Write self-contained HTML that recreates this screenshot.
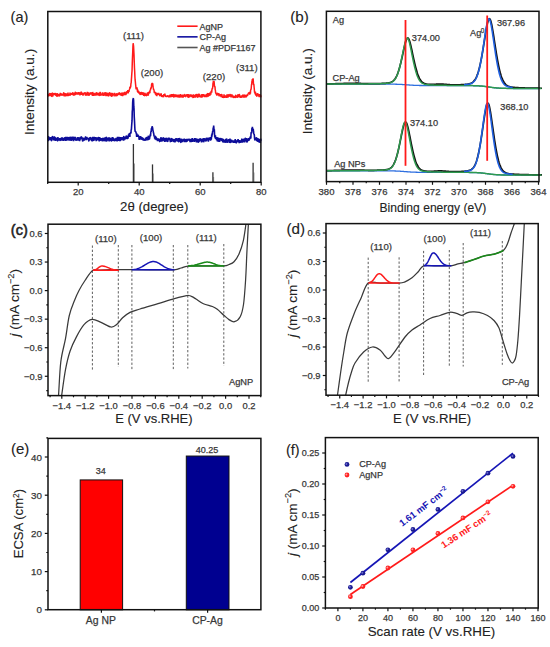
<!DOCTYPE html>
<html><head><meta charset="utf-8"><style>
html,body{margin:0;padding:0;background:#fff;}
svg{display:block;font-family:"Liberation Sans",sans-serif;}
</style></head><body>
<svg width="550" height="647" viewBox="0 0 550 647">
<rect width="550" height="647" fill="#fff"/>
<path d="M48,93.57 L48.22,96.27 L48.44,95.95 L48.66,94.01 L48.88,94.92 L49.1,94.75 L49.32,95.51 L49.54,96.03 L49.76,93.38 L49.98,93.13 L50.2,96.19 L50.42,94.66 L50.64,95.91 L50.86,93.01 L51.08,94.69 L51.3,95.74 L51.52,93.86 L51.74,96.58 L51.96,96.41 L52.18,93.09 L52.4,93.07 L52.62,95.02 L52.84,96.53 L53.06,94.4 L53.28,93.77 L53.5,94.55 L53.72,93.05 L53.94,93.78 L54.16,94.59 L54.38,94.81 L54.6,93.8 L54.82,93.79 L55.04,93.73 L55.26,94.64 L55.48,93.99 L55.7,92.97 L55.92,96.06 L56.14,94.99 L56.36,95.31 L56.58,93.56 L56.8,96.62 L57.02,96.11 L57.24,93.3 L57.46,94.09 L57.68,95.56 L57.9,95.52 L58.12,96.37 L58.34,94.4 L58.56,95.95 L58.78,95.33 L59,93.93 L59.22,95 L59.44,96.12 L59.66,95.97 L59.88,94.67 L60.1,94.98 L60.32,92.86 L60.54,93.65 L60.76,95.74 L60.98,94.28 L61.2,93.36 L61.42,94.77 L61.64,95.35 L61.86,95.24 L62.08,94.09 L62.3,94.32 L62.52,94.58 L62.74,95.6 L62.96,94.61 L63.18,94.11 L63.4,94.47 L63.62,92.71 L63.84,92.76 L64.06,95.26 L64.28,96.31 L64.5,94.82 L64.72,94.05 L64.94,93.19 L65.16,94.45 L65.38,96.26 L65.6,95.45 L65.82,94.56 L66.04,95.77 L66.26,93.37 L66.48,94.43 L66.7,96.09 L66.92,94.66 L67.14,94.2 L67.36,93.47 L67.58,94.52 L67.8,96.06 L68.02,92.44 L68.24,95.38 L68.46,95.51 L68.68,95.75 L68.9,95.19 L69.12,95.44 L69.34,94.33 L69.56,94.48 L69.78,93.96 L70,92.54 L70.22,95.63 L70.44,94.48 L70.66,93.06 L70.88,94.21 L71.1,94.13 L71.32,93.63 L71.54,93.58 L71.76,94.3 L71.98,94.62 L72.2,94.57 L72.42,93.97 L72.64,92.33 L72.86,93.08 L73.08,92.88 L73.3,94.41 L73.52,95.46 L73.74,95.21 L73.96,95.2 L74.18,95.26 L74.4,93.12 L74.62,95.34 L74.84,94.69 L75.06,92.44 L75.28,92.18 L75.5,92.16 L75.72,94.97 L75.94,93.04 L76.16,92.5 L76.38,94.45 L76.6,93.38 L76.82,92.33 L77.04,92.66 L77.26,94.05 L77.48,92.68 L77.7,93.07 L77.92,94.73 L78.14,93.75 L78.36,93.24 L78.58,93.81 L78.8,92.09 L79.02,93.46 L79.24,93.59 L79.46,92.7 L79.68,92.39 L79.9,95.39 L80.12,93.9 L80.34,92.76 L80.56,94.26 L80.78,95.06 L81,92.02 L81.22,92.01 L81.44,92.49 L81.66,94.66 L81.88,92.54 L82.1,94.6 L82.32,94.5 L82.54,93.99 L82.76,92.75 L82.98,95.62 L83.2,94.94 L83.42,93.87 L83.64,92.75 L83.86,94.36 L84.08,93.39 L84.3,94.08 L84.52,93.11 L84.74,94.28 L84.96,92.11 L85.18,93.02 L85.4,95.56 L85.62,95.21 L85.84,93.04 L86.06,95.14 L86.28,93.06 L86.5,95.45 L86.72,94.7 L86.94,93.46 L87.16,92.83 L87.38,91.91 L87.6,95.22 L87.82,92.02 L88.04,94.99 L88.26,95.53 L88.48,94.05 L88.7,92.53 L88.92,95.18 L89.14,95.58 L89.36,94.56 L89.58,93.82 L89.8,93.32 L90.02,93.21 L90.24,92.68 L90.46,94.46 L90.68,93.54 L90.9,92.64 L91.12,92.3 L91.34,94.44 L91.56,93.04 L91.78,93.81 L92,93.16 L92.22,95.24 L92.44,95.35 L92.66,92 L92.88,92.7 L93.1,93.19 L93.32,95.7 L93.54,94.92 L93.76,93.24 L93.98,92.77 L94.2,94.53 L94.42,95.16 L94.64,95.52 L94.86,93.29 L95.08,95.34 L95.3,94.61 L95.52,93.84 L95.74,95.75 L95.96,92.91 L96.18,94.78 L96.4,92.35 L96.62,92.68 L96.84,95.5 L97.06,92.86 L97.28,94.94 L97.5,94.34 L97.72,95.27 L97.94,93.48 L98.16,93.38 L98.38,93.2 L98.6,95.4 L98.82,94.41 L99.04,95.74 L99.26,95.5 L99.48,92.65 L99.7,94.24 L99.92,92.55 L100.14,92.31 L100.36,92.45 L100.58,95.47 L100.8,95.18 L101.02,95.34 L101.24,93.5 L101.46,94.55 L101.68,95.19 L101.9,93.67 L102.12,94.41 L102.34,93.1 L102.56,92.57 L102.78,93.28 L103,95.66 L103.22,94.43 L103.44,95.81 L103.66,94.04 L103.88,93.36 L104.1,95.31 L104.32,95.47 L104.54,92.38 L104.76,94.89 L104.98,92.7 L105.2,92.8 L105.42,95.74 L105.64,92.53 L105.86,93.3 L106.08,96.15 L106.3,94.01 L106.52,92.86 L106.74,93.06 L106.96,93.35 L107.18,95.27 L107.4,92.84 L107.62,95.92 L107.84,93.91 L108.06,96.16 L108.28,95.94 L108.5,93.61 L108.72,93.46 L108.94,94.32 L109.16,92.9 L109.38,95 L109.6,92.68 L109.82,92.58 L110.04,96.28 L110.26,93.67 L110.48,94.82 L110.7,94.27 L110.92,93.76 L111.14,92.82 L111.36,96.05 L111.58,96.27 L111.8,96.28 L112.02,93.02 L112.24,93.42 L112.46,94.96 L112.68,96.34 L112.9,94.68 L113.12,95.24 L113.34,95.14 L113.56,93.61 L113.78,94.69 L114,93.8 L114.22,93.57 L114.44,92.95 L114.66,93.71 L114.88,96.38 L115.1,94.35 L115.32,95.12 L115.54,95.09 L115.76,96.22 L115.98,94.13 L116.2,93.81 L116.42,93.88 L116.64,93.84 L116.86,95.85 L117.08,96.03 L117.3,93.78 L117.52,93.89 L117.74,94.69 L117.96,94.81 L118.18,94.87 L118.4,93.53 L118.62,92.67 L118.84,93.51 L119.06,92.84 L119.28,94.65 L119.5,92.82 L119.72,92.82 L119.94,94.93 L120.16,93.61 L120.38,95.5 L120.6,94.34 L120.82,95.73 L121.04,93.01 L121.26,94.31 L121.48,95.4 L121.7,92.65 L121.92,95.94 L122.14,92.96 L122.36,95.22 L122.58,95.97 L122.8,95.32 L123.02,93.37 L123.24,92.52 L123.46,94.02 L123.68,95.51 L123.9,93.08 L124.12,95.31 L124.34,92.39 L124.56,95.25 L124.78,91.84 L125,92.85 L125.22,95 L125.44,94.53 L125.66,94.83 L125.88,94.48 L126.1,94.01 L126.32,93.68 L126.54,91.61 L126.76,92.44 L126.98,91.25 L127.2,93.21 L127.42,92.86 L127.64,91.09 L127.86,90.17 L128.08,93.37 L128.3,92.54 L128.52,91.29 L128.74,90.98 L128.96,91.84 L129.18,89.99 L129.4,89.41 L129.62,88.79 L129.84,88.04 L130.06,86.65 L130.28,88.44 L130.5,86.88 L130.72,86.59 L130.94,83.48 L131.16,82.98 L131.38,79.92 L131.6,76.83 L131.82,73.37 L132.04,70.64 L132.26,63.39 L132.48,57.49 L132.7,52.73 L132.92,46.82 L133.14,43.23 L133.36,44.69 L133.58,46.35 L133.8,50.67 L134.02,55.03 L134.24,61.81 L134.46,67.8 L134.68,71.19 L134.9,76.57 L135.12,79.96 L135.34,81.58 L135.56,84.17 L135.78,86.09 L136,88.41 L136.22,89.22 L136.44,87.4 L136.66,89.34 L136.88,87.53 L137.1,88.05 L137.32,90.1 L137.54,91.85 L137.76,89.44 L137.98,92.04 L138.2,92.76 L138.42,90.84 L138.64,92.52 L138.86,93.33 L139.08,91.71 L139.3,93.14 L139.52,93.44 L139.74,93.05 L139.96,94.19 L140.18,94.47 L140.4,94.83 L140.62,93.46 L140.84,92.06 L141.06,92.43 L141.28,92.39 L141.5,93.81 L141.72,94.6 L141.94,91.98 L142.16,94.43 L142.38,94.62 L142.6,93.27 L142.82,93.95 L143.04,92.66 L143.26,94.84 L143.48,92.26 L143.7,95.86 L143.92,95.22 L144.14,94.56 L144.36,93.2 L144.58,95.67 L144.8,95.85 L145.02,92.74 L145.24,95.16 L145.46,95.41 L145.68,94.7 L145.9,94.85 L146.12,93.86 L146.34,95.66 L146.56,95.81 L146.78,93.54 L147,95.11 L147.22,93.66 L147.44,92.59 L147.66,93.15 L147.88,92.34 L148.1,95.24 L148.32,95.36 L148.54,92.08 L148.76,93.8 L148.98,92.94 L149.2,91.68 L149.42,92.14 L149.64,91.67 L149.86,93.2 L150.08,89.88 L150.3,89.96 L150.52,90.13 L150.74,87.63 L150.96,88.9 L151.18,87.71 L151.4,87.49 L151.62,84.1 L151.84,83.59 L152.06,84.04 L152.28,82.81 L152.5,84.16 L152.72,83.38 L152.94,85.81 L153.16,87.21 L153.38,88.39 L153.6,90.14 L153.82,89.58 L154.04,90.34 L154.26,92.55 L154.48,92.89 L154.7,92.67 L154.92,92.38 L155.14,92.32 L155.36,91.9 L155.58,94.76 L155.8,92.29 L156.02,94.82 L156.24,94.16 L156.46,95.86 L156.68,95.18 L156.9,96.08 L157.12,92.98 L157.34,94.43 L157.56,94.78 L157.78,93.85 L158,94.64 L158.22,94.15 L158.44,94.85 L158.66,92.9 L158.88,94.63 L159.1,94.7 L159.32,94.19 L159.54,94.59 L159.76,96.09 L159.98,95.75 L160.2,95.05 L160.42,95.68 L160.64,94.68 L160.86,94.05 L161.08,93.32 L161.3,94.38 L161.52,95.63 L161.74,96.73 L161.96,96.55 L162.18,95.36 L162.4,97.19 L162.62,95.21 L162.84,96.65 L163.06,95.05 L163.28,96.34 L163.5,97.28 L163.72,94.7 L163.94,94.2 L164.16,95.93 L164.38,95.6 L164.6,94.96 L164.82,93.62 L165.04,95.1 L165.26,95.25 L165.48,95.19 L165.7,96.93 L165.92,95.89 L166.14,96.47 L166.36,97.1 L166.58,96.54 L166.8,95.58 L167.02,96.55 L167.24,96.16 L167.46,96.2 L167.68,96.13 L167.9,95.29 L168.12,96.15 L168.34,96.17 L168.56,97.33 L168.78,96.75 L169,97 L169.22,96.71 L169.44,96.9 L169.66,96.1 L169.88,95.14 L170.1,94.82 L170.32,96.51 L170.54,97.15 L170.76,95.9 L170.98,94.42 L171.2,97.01 L171.42,95.69 L171.64,95.63 L171.86,94.03 L172.08,95.8 L172.3,96.7 L172.52,95.48 L172.74,95.23 L172.96,96.38 L173.18,93.96 L173.4,95.82 L173.62,97.49 L173.84,96.52 L174.06,95.43 L174.28,96.52 L174.5,96.21 L174.72,94.71 L174.94,94.71 L175.16,97.29 L175.38,94.95 L175.6,94.21 L175.82,97.09 L176.04,95.92 L176.26,95.34 L176.48,95.88 L176.7,96.74 L176.92,94.59 L177.14,96.43 L177.36,96.66 L177.58,97.05 L177.8,94.98 L178.02,96.28 L178.24,94.85 L178.46,96.1 L178.68,94.62 L178.9,96.97 L179.12,97.27 L179.34,95.23 L179.56,94.82 L179.78,97.64 L180,96.67 L180.22,97.19 L180.44,94.11 L180.66,97.41 L180.88,96.36 L181.1,95.2 L181.32,95.64 L181.54,96.89 L181.76,96.99 L181.98,94.73 L182.2,96.38 L182.42,94.64 L182.64,97.71 L182.86,95.7 L183.08,97.48 L183.3,96.78 L183.52,96.32 L183.74,95.01 L183.96,96.02 L184.18,94.55 L184.4,94.55 L184.62,96.75 L184.84,95.4 L185.06,96.88 L185.28,94.94 L185.5,96.76 L185.72,96.76 L185.94,95.2 L186.16,94.44 L186.38,95.55 L186.6,95.91 L186.82,94.42 L187.04,94.75 L187.26,94.25 L187.48,96.31 L187.7,97.42 L187.92,94.87 L188.14,94.18 L188.36,96.72 L188.58,97.14 L188.8,97.71 L189.02,96.38 L189.24,95.35 L189.46,97.23 L189.68,94.5 L189.9,96.68 L190.12,94.41 L190.34,95.57 L190.56,95.93 L190.78,95.49 L191,94.69 L191.22,94.93 L191.44,97.17 L191.66,95.81 L191.88,96.26 L192.1,94.86 L192.32,96.77 L192.54,95.31 L192.76,96.31 L192.98,97.51 L193.2,97.83 L193.42,94.23 L193.64,97.08 L193.86,97.31 L194.08,95.26 L194.3,95.5 L194.52,96.25 L194.74,97.54 L194.96,95.56 L195.18,97.39 L195.4,96.92 L195.62,94.62 L195.84,97.51 L196.06,94.09 L196.28,94.59 L196.5,96.56 L196.72,94.25 L196.94,95.47 L197.16,94.52 L197.38,95.78 L197.6,97.21 L197.82,97.46 L198.04,94.15 L198.26,94.24 L198.48,97.2 L198.7,94.16 L198.92,95.04 L199.14,94.44 L199.36,94.33 L199.58,94.09 L199.8,96.4 L200.02,96.8 L200.24,96.57 L200.46,97.17 L200.68,96.47 L200.9,95.42 L201.12,96.33 L201.34,97.61 L201.56,96.36 L201.78,94.83 L202,94.13 L202.22,97.44 L202.44,96.12 L202.66,95.19 L202.88,96.15 L203.1,95.97 L203.32,95.81 L203.54,94.04 L203.76,95.14 L203.98,95.35 L204.2,94.52 L204.42,97.08 L204.64,95.33 L204.86,96.21 L205.08,96.39 L205.3,96.47 L205.52,96.36 L205.74,96.45 L205.96,94.52 L206.18,97.24 L206.4,94.07 L206.62,96.95 L206.84,96.66 L207.06,96.61 L207.28,93.53 L207.5,93.62 L207.72,96.31 L207.94,94.95 L208.16,94.51 L208.38,96.77 L208.6,93.11 L208.82,94.9 L209.04,94.48 L209.26,93.19 L209.48,94.1 L209.7,95.18 L209.92,95.72 L210.14,92.33 L210.36,94.08 L210.58,92.25 L210.8,94.72 L211.02,91.72 L211.24,91.14 L211.46,91.95 L211.68,92.59 L211.9,90.11 L212.12,88.3 L212.34,89.5 L212.56,88.06 L212.78,86.71 L213,83.14 L213.22,82.36 L213.44,80.82 L213.66,81.64 L213.88,80.95 L214.1,81.68 L214.32,84.48 L214.54,86.55 L214.76,86.67 L214.98,86.37 L215.2,89.84 L215.42,90.26 L215.64,93.29 L215.86,93.02 L216.08,94.04 L216.3,93.96 L216.52,93.65 L216.74,95.27 L216.96,95.22 L217.18,93.33 L217.4,92.96 L217.62,93.9 L217.84,94.59 L218.06,93.08 L218.28,94.12 L218.5,95.08 L218.72,93.15 L218.94,96.16 L219.16,95.61 L219.38,94.39 L219.6,94.4 L219.82,94.66 L220.04,94.61 L220.26,96.27 L220.48,95.38 L220.7,95.52 L220.92,94.12 L221.14,97.07 L221.36,94.87 L221.58,94.91 L221.8,93.96 L222.02,97.45 L222.24,95.58 L222.46,97.25 L222.68,97.33 L222.9,97.52 L223.12,96.95 L223.34,97.39 L223.56,97.4 L223.78,96.96 L224,94.44 L224.22,95.93 L224.44,96.15 L224.66,97.75 L224.88,96.97 L225.1,96.67 L225.32,96.85 L225.54,95.4 L225.76,97.62 L225.98,96.49 L226.2,95.59 L226.42,95.83 L226.64,97.8 L226.86,96.11 L227.08,94.73 L227.3,94.67 L227.52,96.72 L227.74,96.26 L227.96,97.57 L228.18,94.83 L228.4,95.7 L228.62,96.91 L228.84,94.34 L229.06,94.53 L229.28,96.23 L229.5,95.17 L229.72,94.57 L229.94,95.17 L230.16,96.58 L230.38,96.18 L230.6,94.48 L230.82,94.46 L231.04,97.42 L231.26,96.64 L231.48,94.85 L231.7,97.47 L231.92,94.28 L232.14,95.6 L232.36,97.43 L232.58,96.9 L232.8,95.29 L233.02,97.6 L233.24,96.48 L233.46,97.5 L233.68,97.6 L233.9,95.83 L234.12,96.78 L234.34,96.28 L234.56,97.8 L234.78,97.24 L235,96.97 L235.22,97.3 L235.44,98 L235.66,95.18 L235.88,94.97 L236.1,97.04 L236.32,97.13 L236.54,96.15 L236.76,96.05 L236.98,95.73 L237.2,97.54 L237.42,97.21 L237.64,96.4 L237.86,94.33 L238.08,97.41 L238.3,95.91 L238.52,94.88 L238.74,95.29 L238.96,96.78 L239.18,94.16 L239.4,94.59 L239.62,95.28 L239.84,97.49 L240.06,96.95 L240.28,97.79 L240.5,96.16 L240.72,96.26 L240.94,96.17 L241.16,96.06 L241.38,96.11 L241.6,97.14 L241.82,97.64 L242.04,95.55 L242.26,96.38 L242.48,95.14 L242.7,95.1 L242.92,95.85 L243.14,96.13 L243.36,95.97 L243.58,97.57 L243.8,94.45 L244.02,96.22 L244.24,97.55 L244.46,96.54 L244.68,95.86 L244.9,95.07 L245.12,95.16 L245.34,97.15 L245.56,96.95 L245.78,96.04 L246,96.86 L246.22,96.9 L246.44,96.54 L246.66,94.72 L246.88,94.95 L247.1,96.14 L247.32,94.44 L247.54,95.79 L247.76,94.67 L247.98,94.02 L248.2,94.36 L248.42,92.95 L248.64,93.72 L248.86,93.8 L249.08,92.13 L249.3,92.53 L249.52,92.64 L249.74,94.63 L249.96,93.24 L250.18,91.61 L250.4,93.66 L250.62,89.98 L250.84,89.83 L251.06,89.3 L251.28,87.49 L251.5,84.7 L251.72,84.15 L251.94,81.32 L252.16,80.77 L252.38,78.99 L252.6,80.49 L252.82,79.85 L253.04,78.41 L253.26,79.97 L253.48,84.89 L253.7,83.94 L253.92,84.98 L254.14,87.48 L254.36,89.73 L254.58,92.65 L254.8,91.42 L255.02,93.31 L255.24,94.22 L255.46,91.76 L255.68,94.03 L255.9,95.71 L256.12,94.21 L256.34,94.32 L256.56,93.76 L256.78,96.17 L257,96.39 L257.22,93.21 L257.44,95.03 L257.66,94.62 L257.88,95.67 L258.1,93.66 L258.32,94.29 L258.54,94.42 L258.76,95.25 L258.98,96.51 L259.2,96.82 L259.42,96.6 L259.64,96.24 L259.86,94.05 L260.08,95.24 L260.3,96.35 L260.52,94.96 L260.74,95.81 L260.96,97.36" fill="none" stroke="#ff1a1a" stroke-width="1.5" stroke-linejoin="bevel"/>
<path d="M48,140.68 L48.22,140.64 L48.44,136.55 L48.66,136.68 L48.88,140.14 L49.1,139.68 L49.32,139.38 L49.54,137.72 L49.76,139.09 L49.98,139.1 L50.2,138.98 L50.42,137.04 L50.64,138.3 L50.86,138.13 L51.08,139.65 L51.3,140.9 L51.52,140.69 L51.74,138.83 L51.96,138.38 L52.18,137.57 L52.4,136.5 L52.62,136.47 L52.84,138.48 L53.06,137.81 L53.28,138.1 L53.5,140.45 L53.72,138.77 L53.94,138.93 L54.16,137.45 L54.38,136.47 L54.6,137.86 L54.82,137 L55.04,138.72 L55.26,140.97 L55.48,139.48 L55.7,137.22 L55.92,140.49 L56.14,140.05 L56.36,139.77 L56.58,140.56 L56.8,139.9 L57.02,140.03 L57.24,138.03 L57.46,140.91 L57.68,140.83 L57.9,137.15 L58.12,139.88 L58.34,139.7 L58.56,138.54 L58.78,138.86 L59,138.67 L59.22,140.68 L59.44,138.73 L59.66,140.25 L59.88,138.06 L60.1,140.5 L60.32,140.58 L60.54,138.56 L60.76,139.05 L60.98,140.68 L61.2,139.78 L61.42,138.69 L61.64,137.47 L61.86,137.95 L62.08,139.68 L62.3,137.23 L62.52,140.64 L62.74,137.7 L62.96,140.66 L63.18,137.9 L63.4,140.88 L63.62,139.73 L63.84,138.8 L64.06,138.87 L64.28,139.48 L64.5,139.19 L64.72,137.93 L64.94,137.45 L65.16,138.85 L65.38,140.8 L65.6,139.37 L65.82,136.85 L66.04,140.28 L66.26,139.85 L66.48,140.69 L66.7,137.4 L66.92,139.95 L67.14,136.79 L67.36,139.53 L67.58,137.78 L67.8,137.57 L68.02,140.56 L68.24,137.02 L68.46,138.94 L68.68,140.47 L68.9,137.67 L69.12,137.51 L69.34,140.6 L69.56,138.5 L69.78,139.85 L70,136.7 L70.22,138.23 L70.44,137.35 L70.66,139.66 L70.88,136.95 L71.1,140.96 L71.32,136.69 L71.54,139.93 L71.76,136.68 L71.98,137.76 L72.2,140.33 L72.42,137.31 L72.64,137.43 L72.86,139.77 L73.08,138.37 L73.3,136.8 L73.52,141.15 L73.74,137.3 L73.96,136.77 L74.18,138.19 L74.4,139.44 L74.62,140.03 L74.84,137.14 L75.06,138.17 L75.28,136.76 L75.5,138.69 L75.72,140.15 L75.94,140.03 L76.16,140.78 L76.38,140.11 L76.6,140.6 L76.82,139.88 L77.04,138.82 L77.26,137.68 L77.48,139.69 L77.7,138.1 L77.92,137.12 L78.14,138.71 L78.36,140.68 L78.58,137.25 L78.8,139.35 L79.02,138.47 L79.24,139.04 L79.46,137.33 L79.68,141.09 L79.9,137.87 L80.12,139.47 L80.34,138.61 L80.56,136.77 L80.78,139.25 L81,137.33 L81.22,136.95 L81.44,136.85 L81.66,137.44 L81.88,137.14 L82.1,139.62 L82.32,139.04 L82.54,141.23 L82.76,141.01 L82.98,141.29 L83.2,137.78 L83.42,138.76 L83.64,137.87 L83.86,139.44 L84.08,139.59 L84.3,140.41 L84.52,139.99 L84.74,137.91 L84.96,138.68 L85.18,139.16 L85.4,136.76 L85.62,136.9 L85.84,138.62 L86.06,137.26 L86.28,140.08 L86.5,137.86 L86.72,137.21 L86.94,137.59 L87.16,137.82 L87.38,137.76 L87.6,139.16 L87.82,138.9 L88.04,138.19 L88.26,139.72 L88.48,137.75 L88.7,140.94 L88.92,141.21 L89.14,140.13 L89.36,138.78 L89.58,139.14 L89.8,139.46 L90.02,137.02 L90.24,138.71 L90.46,139.21 L90.68,137.63 L90.9,137.23 L91.12,140.49 L91.34,138.49 L91.56,139.19 L91.78,141.04 L92,139.62 L92.22,138.14 L92.44,141.34 L92.66,138.53 L92.88,136.9 L93.1,139.97 L93.32,137.29 L93.54,138.23 L93.76,140.69 L93.98,139.92 L94.2,136.9 L94.42,138.91 L94.64,138.72 L94.86,139.07 L95.08,137.8 L95.3,139.55 L95.52,137.18 L95.74,138.15 L95.96,138.56 L96.18,141.15 L96.4,137.2 L96.62,140.33 L96.84,137.74 L97.06,139.49 L97.28,138.66 L97.5,138.99 L97.72,140.33 L97.94,138.68 L98.16,137.43 L98.38,137.43 L98.6,137.24 L98.82,140.78 L99.04,139.82 L99.26,141.29 L99.48,140.06 L99.7,136.99 L99.92,139.91 L100.14,140.46 L100.36,140.21 L100.58,139.18 L100.8,138.53 L101.02,138.99 L101.24,140.56 L101.46,138.13 L101.68,139.31 L101.9,139.09 L102.12,141.29 L102.34,140.6 L102.56,141.19 L102.78,140.74 L103,138.27 L103.22,137.97 L103.44,139.15 L103.66,138.1 L103.88,138.87 L104.1,140.03 L104.32,141.13 L104.54,139.6 L104.76,140.67 L104.98,137.35 L105.2,138.55 L105.42,141.5 L105.64,137.59 L105.86,138.83 L106.08,137.22 L106.3,137.31 L106.52,141.03 L106.74,141.46 L106.96,139.9 L107.18,137.51 L107.4,138.28 L107.62,137.98 L107.84,140 L108.06,140.05 L108.28,138.94 L108.5,139.33 L108.72,137.43 L108.94,139.41 L109.16,141.29 L109.38,140.39 L109.6,137.36 L109.82,139.29 L110.04,140.21 L110.26,138.1 L110.48,141.03 L110.7,139.03 L110.92,140.15 L111.14,138.77 L111.36,141.49 L111.58,140.51 L111.8,139.55 L112.02,137.57 L112.24,138.93 L112.46,137.04 L112.68,139.64 L112.9,140.96 L113.12,137.73 L113.34,139.24 L113.56,139.11 L113.78,138.75 L114,140.15 L114.22,141.19 L114.44,140.13 L114.66,139.05 L114.88,141.3 L115.1,138.39 L115.32,140.29 L115.54,139.89 L115.76,140.36 L115.98,140.77 L116.2,137.88 L116.42,139.7 L116.64,138.69 L116.86,139.9 L117.08,141.32 L117.3,139.73 L117.52,136.86 L117.74,138.94 L117.96,140.06 L118.18,140.85 L118.4,139.76 L118.62,140.52 L118.84,136.83 L119.06,141.08 L119.28,140.09 L119.5,139.51 L119.72,140.87 L119.94,140.76 L120.16,137.14 L120.38,140.42 L120.6,140.18 L120.82,137.55 L121.04,140.04 L121.26,139.29 L121.48,137.46 L121.7,140.25 L121.92,137.17 L122.14,139.32 L122.36,138.48 L122.58,137.62 L122.8,139.03 L123.02,138.54 L123.24,137.31 L123.46,140.78 L123.68,136.63 L123.9,136.27 L124.12,138.44 L124.34,140.02 L124.56,139.15 L124.78,139.54 L125,138.24 L125.22,139.05 L125.44,137.43 L125.66,137.04 L125.88,138.05 L126.1,135.79 L126.32,135.94 L126.54,138.95 L126.76,136.17 L126.98,138.72 L127.2,138.75 L127.42,136.87 L127.64,137.97 L127.86,138.33 L128.08,138.51 L128.3,134.97 L128.52,134.89 L128.74,135.67 L128.96,135.81 L129.18,134.75 L129.4,133.15 L129.62,135.33 L129.84,136.86 L130.06,133.69 L130.28,134.03 L130.5,132.78 L130.72,132.41 L130.94,133.53 L131.16,129.76 L131.38,129.62 L131.6,126.41 L131.82,123.29 L132.04,120.66 L132.26,111.62 L132.48,109.52 L132.7,102 L132.92,99.71 L133.14,98.56 L133.36,98.45 L133.58,100.09 L133.8,106.7 L134.02,108.68 L134.24,116.62 L134.46,120.36 L134.68,124.92 L134.9,129.32 L135.12,131.16 L135.34,131.83 L135.56,131.37 L135.78,131.77 L136,133.39 L136.22,132.84 L136.44,133.48 L136.66,136.99 L136.88,133.45 L137.1,137.01 L137.32,135.28 L137.54,135.47 L137.76,135.5 L137.98,134.6 L138.2,136.55 L138.42,135.39 L138.64,136.82 L138.86,136.28 L139.08,139.19 L139.3,139.43 L139.52,137.34 L139.74,138.36 L139.96,139.79 L140.18,137.1 L140.4,136.13 L140.62,136.84 L140.84,136.69 L141.06,139 L141.28,137.65 L141.5,137.62 L141.72,139.69 L141.94,137.15 L142.16,139.83 L142.38,139.06 L142.6,138.02 L142.82,139.99 L143.04,137.8 L143.26,140.29 L143.48,140.53 L143.7,138.59 L143.92,139.47 L144.14,140.66 L144.36,139.72 L144.58,139.76 L144.8,140.3 L145.02,140.6 L145.24,139.76 L145.46,140.78 L145.68,137.61 L145.9,139.11 L146.12,139.31 L146.34,137.89 L146.56,137.98 L146.78,136.93 L147,140.49 L147.22,137.67 L147.44,138.18 L147.66,140.04 L147.88,136.73 L148.1,140.22 L148.32,136.3 L148.54,135.76 L148.76,137.14 L148.98,137.05 L149.2,139.45 L149.42,139.08 L149.64,138.23 L149.86,136.35 L150.08,136.31 L150.3,134.22 L150.52,136.11 L150.74,133.05 L150.96,131.43 L151.18,131.86 L151.4,128.49 L151.62,128.29 L151.84,130.44 L152.06,126.34 L152.28,126.7 L152.5,127.53 L152.72,128.62 L152.94,130.5 L153.16,130.92 L153.38,132.53 L153.6,133.18 L153.82,134.08 L154.04,136.55 L154.26,135.89 L154.48,136.51 L154.7,138.66 L154.92,135.67 L155.14,136.25 L155.36,139.66 L155.58,137.85 L155.8,139.57 L156.02,136.71 L156.24,138.6 L156.46,140.17 L156.68,137.91 L156.9,139.97 L157.12,139.31 L157.34,138.38 L157.56,141.22 L157.78,138.49 L158,138.92 L158.22,139.64 L158.44,138.3 L158.66,140.73 L158.88,139.67 L159.1,139.67 L159.32,139.48 L159.54,141.56 L159.76,141.61 L159.98,140.96 L160.2,139.21 L160.42,139.04 L160.64,139.59 L160.86,137.41 L161.08,137.72 L161.3,141.82 L161.52,137.86 L161.74,141.6 L161.96,140.43 L162.18,141.53 L162.4,137.7 L162.62,138.77 L162.84,141.05 L163.06,137.43 L163.28,137.89 L163.5,139.03 L163.72,138.23 L163.94,138.12 L164.16,140.54 L164.38,137.89 L164.6,141.95 L164.82,140.48 L165.04,137.73 L165.26,141.65 L165.48,138.64 L165.7,139.75 L165.92,140.12 L166.14,138.19 L166.36,139.88 L166.58,137.85 L166.8,138.5 L167.02,141.82 L167.24,141.38 L167.46,140.01 L167.68,140.75 L167.9,141.65 L168.12,138.28 L168.34,139.9 L168.56,138.25 L168.78,138.19 L169,138.16 L169.22,138.64 L169.44,137.92 L169.66,138.67 L169.88,139.43 L170.1,140.56 L170.32,141.65 L170.54,141.86 L170.76,141.01 L170.98,140.05 L171.2,141.94 L171.42,138.48 L171.64,138.22 L171.86,141.5 L172.08,140.63 L172.3,138.72 L172.52,139.49 L172.74,139.13 L172.96,139.75 L173.18,139.74 L173.4,139.61 L173.62,141.45 L173.84,141.52 L174.06,140.38 L174.28,139.97 L174.5,139.11 L174.72,141.33 L174.94,142.35 L175.16,138.87 L175.38,141.05 L175.6,141.04 L175.82,140.85 L176.04,137.97 L176.26,140.37 L176.48,138.77 L176.7,138.74 L176.92,140.51 L177.14,140.82 L177.36,140.73 L177.58,141.27 L177.8,141.1 L178.02,140.05 L178.24,138.09 L178.46,141.43 L178.68,141.67 L178.9,141.73 L179.12,140.64 L179.34,138.07 L179.56,138.8 L179.78,138.4 L180,140.83 L180.22,140.41 L180.44,138.77 L180.66,142.31 L180.88,142.41 L181.1,142.06 L181.32,140.06 L181.54,139.27 L181.76,138.89 L181.98,141.72 L182.2,141.16 L182.42,139.21 L182.64,142.09 L182.86,140.56 L183.08,139.85 L183.3,139.86 L183.52,141.27 L183.74,140.05 L183.96,140.99 L184.18,138.53 L184.4,141.2 L184.62,139.22 L184.84,142.16 L185.06,138.96 L185.28,139.51 L185.5,140.46 L185.72,139.79 L185.94,140.4 L186.16,142.24 L186.38,138.92 L186.6,141.55 L186.82,141.19 L187.04,141.62 L187.26,140.06 L187.48,140.1 L187.7,139.6 L187.92,140.19 L188.14,139.18 L188.36,138.89 L188.58,140.21 L188.8,138.9 L189.02,140.18 L189.24,140.66 L189.46,139.45 L189.68,138.81 L189.9,140.82 L190.12,141.99 L190.34,139.06 L190.56,140.87 L190.78,141.07 L191,142.11 L191.22,141.18 L191.44,139.46 L191.66,139 L191.88,141.9 L192.1,139.43 L192.32,138.11 L192.54,142.06 L192.76,138.97 L192.98,139.5 L193.2,139.53 L193.42,139.24 L193.64,141.39 L193.86,139.64 L194.08,140.09 L194.3,139.99 L194.52,141.9 L194.74,138.15 L194.96,140.73 L195.18,138.67 L195.4,138.76 L195.62,140.86 L195.84,139.8 L196.06,138.37 L196.28,140.78 L196.5,142.28 L196.72,141.04 L196.94,140.35 L197.16,141.75 L197.38,142.28 L197.6,138.76 L197.82,139.44 L198.04,142.5 L198.26,142.32 L198.48,139 L198.7,141.3 L198.92,142.08 L199.14,140.78 L199.36,141.29 L199.58,140.46 L199.8,139.13 L200.02,139.03 L200.24,138.33 L200.46,141.1 L200.68,138.67 L200.9,140.89 L201.12,139.83 L201.34,140.03 L201.56,142.48 L201.78,139.82 L202,140.19 L202.22,139.75 L202.44,138.98 L202.66,139.02 L202.88,140.43 L203.1,141.73 L203.32,138.37 L203.54,142.3 L203.76,141.04 L203.98,138.17 L204.2,141.16 L204.42,139.74 L204.64,140.25 L204.86,138.33 L205.08,140.19 L205.3,140.22 L205.52,141.4 L205.74,140.45 L205.96,141 L206.18,141.11 L206.4,138.72 L206.62,137.79 L206.84,139.84 L207.06,138.2 L207.28,138.21 L207.5,139 L207.72,139.94 L207.94,140.25 L208.16,140.34 L208.38,141.64 L208.6,137.71 L208.82,139.73 L209.04,137.49 L209.26,140.08 L209.48,138.92 L209.7,137.45 L209.92,138.12 L210.14,139.61 L210.36,138.6 L210.58,140.59 L210.8,137.66 L211.02,137.29 L211.24,139.57 L211.46,137.55 L211.68,134.48 L211.9,136.58 L212.12,133.4 L212.34,134.63 L212.56,131.66 L212.78,130.98 L213,130.2 L213.22,127.66 L213.44,129.58 L213.66,125.66 L213.88,128.05 L214.1,131.66 L214.32,129.36 L214.54,133.94 L214.76,136.84 L214.98,136.7 L215.2,138.3 L215.42,135.39 L215.64,138.03 L215.86,138.71 L216.08,138.18 L216.3,138.32 L216.52,140.19 L216.74,137.45 L216.96,137.03 L217.18,139.67 L217.4,141.49 L217.62,140.94 L217.84,140.32 L218.06,138.66 L218.28,141.54 L218.5,137.64 L218.72,138.65 L218.94,141.2 L219.16,141.75 L219.38,139.53 L219.6,141.91 L219.82,138.28 L220.04,140.56 L220.26,138.16 L220.48,138.96 L220.7,138.79 L220.92,137.98 L221.14,139.85 L221.36,140.31 L221.58,139.33 L221.8,141.06 L222.02,138.32 L222.24,140.48 L222.46,140.55 L222.68,140 L222.9,142.37 L223.12,138.76 L223.34,140.16 L223.56,140.32 L223.78,139.94 L224,142.72 L224.22,140.88 L224.44,140.64 L224.66,140.3 L224.88,140.3 L225.1,142.67 L225.32,141.98 L225.54,141.3 L225.76,139.08 L225.98,141.07 L226.2,138.94 L226.42,139.97 L226.64,138.47 L226.86,141.62 L227.08,142.88 L227.3,141.32 L227.52,141.02 L227.74,139.55 L227.96,140.44 L228.18,140.55 L228.4,140.37 L228.62,139.67 L228.84,139.44 L229.06,141.89 L229.28,142.82 L229.5,142.23 L229.72,141.31 L229.94,138.59 L230.16,139.85 L230.38,142.33 L230.6,142.95 L230.82,140.99 L231.04,141.1 L231.26,141.64 L231.48,139.62 L231.7,141.77 L231.92,140.17 L232.14,142.39 L232.36,140.62 L232.58,141.55 L232.8,141.06 L233.02,140.97 L233.24,140.63 L233.46,142.89 L233.68,141.99 L233.9,140.45 L234.12,140.84 L234.34,142.65 L234.56,141.96 L234.78,141.53 L235,142.93 L235.22,139.06 L235.44,141.28 L235.66,141.4 L235.88,140.62 L236.1,142.96 L236.32,142.98 L236.54,140.32 L236.76,141.36 L236.98,142.05 L237.2,141.73 L237.42,140.19 L237.64,142.19 L237.86,140.12 L238.08,139.19 L238.3,141.57 L238.52,141.5 L238.74,140.39 L238.96,140.8 L239.18,143.05 L239.4,142.22 L239.62,140.37 L239.84,142.69 L240.06,141.11 L240.28,140.34 L240.5,141.45 L240.72,142.07 L240.94,142.59 L241.16,141.54 L241.38,141.52 L241.6,140.28 L241.82,138.61 L242.04,140.51 L242.26,138.93 L242.48,142.73 L242.7,140.05 L242.92,141.15 L243.14,141.73 L243.36,139.16 L243.58,142.16 L243.8,139.8 L244.02,138.65 L244.24,141.02 L244.46,140.09 L244.68,142.44 L244.9,140.23 L245.12,138.59 L245.34,138.21 L245.56,138.23 L245.78,140.33 L246,141.3 L246.22,138.21 L246.44,139.45 L246.66,140.08 L246.88,141.96 L247.1,142.24 L247.32,141.74 L247.54,140.58 L247.76,140.21 L247.98,138.52 L248.2,140.22 L248.42,138.08 L248.64,138.61 L248.86,140.92 L249.08,139.58 L249.3,140.16 L249.52,138.78 L249.74,137.69 L249.96,138.41 L250.18,138.32 L250.4,136.24 L250.62,138.29 L250.84,137.99 L251.06,133.19 L251.28,132.18 L251.5,133.42 L251.72,131.65 L251.94,128.16 L252.16,128.92 L252.38,126.82 L252.6,129.68 L252.82,128.87 L253.04,129.4 L253.26,128.98 L253.48,131.46 L253.7,133.15 L253.92,133.95 L254.14,134.26 L254.36,135.29 L254.58,138.35 L254.8,139.96 L255.02,140.02 L255.24,139.29 L255.46,140.34 L255.68,137.51 L255.9,138.02 L256.12,140.43 L256.34,137.32 L256.56,137.81 L256.78,141.1 L257,138.52 L257.22,138.55 L257.44,139.6 L257.66,141.7 L257.88,137.97 L258.1,142.02 L258.32,139.45 L258.54,140.73 L258.76,140.33 L258.98,138.77 L259.2,142.66 L259.42,139.1 L259.64,142.04 L259.86,142.42 L260.08,140.5 L260.3,142.86 L260.52,138.76 L260.74,139.18 L260.96,140.76" fill="none" stroke="#0d0d9a" stroke-width="1.6" stroke-linejoin="bevel"/>
<line x1="133.4" y1="144" x2="133.4" y2="182.3" stroke="#333" stroke-width="1.3"/>
<line x1="152.5" y1="164.4" x2="152.5" y2="182.3" stroke="#333" stroke-width="1.3"/>
<line x1="212.9" y1="172.2" x2="212.9" y2="182.3" stroke="#333" stroke-width="1.3"/>
<line x1="253.1" y1="162.8" x2="253.1" y2="182.3" stroke="#333" stroke-width="1.3"/>
<line x1="134.3" y1="163.5" x2="134.3" y2="182.3" stroke="#555" stroke-width="0.7"/>
<line x1="153.2" y1="173.5" x2="153.2" y2="182.3" stroke="#555" stroke-width="0.7"/>
<line x1="213.6" y1="177" x2="213.6" y2="182.3" stroke="#555" stroke-width="0.7"/>
<line x1="253.9" y1="172.5" x2="253.9" y2="182.3" stroke="#555" stroke-width="0.7"/>
<rect x="47.8" y="11.5" width="213.1" height="170.8" fill="none" stroke="#111" stroke-width="1.5"/>
<line x1="47.7" y1="182.3" x2="47.7" y2="183.9" stroke="#111" stroke-width="1.2"/>
<line x1="78.2" y1="182.3" x2="78.2" y2="185.5" stroke="#111" stroke-width="1.2"/>
<text x="78.2" y="194.8" font-size="9.5" text-anchor="middle" fill="#383838"  stroke="#383838" stroke-width="0.25">20</text>
<line x1="108.7" y1="182.3" x2="108.7" y2="183.9" stroke="#111" stroke-width="1.2"/>
<line x1="139.2" y1="182.3" x2="139.2" y2="185.5" stroke="#111" stroke-width="1.2"/>
<text x="139.2" y="194.8" font-size="9.5" text-anchor="middle" fill="#383838"  stroke="#383838" stroke-width="0.25">40</text>
<line x1="169.7" y1="182.3" x2="169.7" y2="183.9" stroke="#111" stroke-width="1.2"/>
<line x1="200.2" y1="182.3" x2="200.2" y2="185.5" stroke="#111" stroke-width="1.2"/>
<text x="200.2" y="194.8" font-size="9.5" text-anchor="middle" fill="#383838"  stroke="#383838" stroke-width="0.25">60</text>
<line x1="230.7" y1="182.3" x2="230.7" y2="183.9" stroke="#111" stroke-width="1.2"/>
<line x1="261.2" y1="182.3" x2="261.2" y2="185.5" stroke="#111" stroke-width="1.2"/>
<text x="261.2" y="194.8" font-size="9.5" text-anchor="middle" fill="#383838"  stroke="#383838" stroke-width="0.25">80</text>
<text x="154.2" y="211.2" font-size="13.2" text-anchor="middle" fill="#222"  stroke="#222" stroke-width="0.12">2θ (degree)</text>
<text x="-91.9" y="33.7" font-size="13.6" text-anchor="middle" fill="#222" transform="rotate(-90)" stroke="#222" stroke-width="0.12">Intensity (a.u.)</text>
<text x="10.6" y="21.8" font-size="14.5" text-anchor="start" fill="#222"  stroke="#222" stroke-width="0.12">(a)</text>
<line x1="177.3" y1="26.2" x2="197.6" y2="26.2" stroke="#ff1a1a" stroke-width="1.6"/>
<text x="199.6" y="29.5" font-size="9.0" text-anchor="start" fill="#383838"  stroke="#383838" stroke-width="0.25">AgNP</text>
<line x1="177.3" y1="36.85" x2="197.6" y2="36.85" stroke="#1010a0" stroke-width="1.6"/>
<text x="199.6" y="40.15" font-size="9.0" text-anchor="start" fill="#383838"  stroke="#383838" stroke-width="0.25">CP-Ag</text>
<line x1="177.3" y1="47.5" x2="197.6" y2="47.5" stroke="#555" stroke-width="1.6"/>
<text x="199.6" y="50.8" font-size="9.0" text-anchor="start" fill="#383838"  stroke="#383838" stroke-width="0.25">Ag #PDF1167</text>
<text x="133.5" y="38.6" font-size="9.6" text-anchor="middle" fill="#383838"  stroke="#383838" stroke-width="0.25">(111)</text>
<text x="152" y="75.6" font-size="9.6" text-anchor="middle" fill="#383838"  stroke="#383838" stroke-width="0.25">(200)</text>
<text x="214" y="79.6" font-size="9.6" text-anchor="middle" fill="#383838"  stroke="#383838" stroke-width="0.25">(220)</text>
<text x="246.8" y="71.4" font-size="9.6" text-anchor="middle" fill="#383838"  stroke="#383838" stroke-width="0.25">(311)</text>
<path d="M326.4,84.1 L326.83,84.1 L327.26,84.1 L327.69,84.1 L328.12,84.1 L328.55,84.1 L328.98,84.1 L329.41,84.1 L329.84,84.1 L330.27,84.1 L330.7,84.1 L331.13,84.1 L331.56,84.1 L331.99,84.1 L332.42,84.1 L332.85,84.1 L333.28,84.1 L333.71,84.1 L334.14,84.1 L334.57,84.1 L335,84.1 L335.43,84.1 L335.86,84.1 L336.29,84.1 L336.72,84.1 L337.15,84.1 L337.59,84.1 L338.02,84.1 L338.45,84.1 L338.88,84.1 L339.31,84.1 L339.74,84.1 L340.17,84.1 L340.6,84.1 L341.03,84.1 L341.46,84.1 L341.89,84.1 L342.32,84.1 L342.75,84.1 L343.18,84.1 L343.61,84.1 L344.04,84.1 L344.47,84.1 L344.9,84.1 L345.33,84.1 L345.76,84.1 L346.19,84.1 L346.62,84.1 L347.05,84.1 L347.48,84.1 L347.91,84.1 L348.34,84.1 L348.77,84.1 L349.2,84.1 L349.63,84.1 L350.06,84.1 L350.49,84.1 L350.92,84.1 L351.35,84.1 L351.78,84.1 L352.21,84.1 L352.64,84.1 L353.07,84.1 L353.5,84.1 L353.93,84.1 L354.36,84.1 L354.79,84.1 L355.22,84.1 L355.65,84.1 L356.08,84.1 L356.51,84.1 L356.94,84.1 L357.37,84.1 L357.8,84.1 L358.23,84.1 L358.66,84.1 L359.1,84.1 L359.53,84.1 L359.96,84.1 L360.39,84.1 L360.82,84.1 L361.25,84.1 L361.68,84.1 L362.11,84.1 L362.54,84.1 L362.97,84.1 L363.4,84.1 L363.83,84.1 L364.26,84.1 L364.69,84.1 L365.12,84.1 L365.55,84.1 L365.98,84.1 L366.41,84.1 L366.84,84.1 L367.27,84.1 L367.7,84.1 L368.13,84.1 L368.56,84.1 L368.99,84.1 L369.42,84.1 L369.85,84.1 L370.28,84.1 L370.71,84.1 L371.14,84.1 L371.57,84.1 L372,84.1 L372.43,84.1 L372.86,84.1 L373.29,84.1 L373.72,84.1 L374.15,84.1 L374.58,84.1 L375.01,84.1 L375.44,84.1 L375.87,84.1 L376.3,84.1 L376.73,84.1 L377.16,84.1 L377.59,84.1 L378.02,84.1 L378.45,84.1 L378.88,84.11 L379.31,84.11 L379.74,84.11 L380.17,84.11 L380.61,84.11 L381.04,84.11 L381.47,84.11 L381.9,84.11 L382.33,84.11 L382.76,84.11 L383.19,84.11 L383.62,84.11 L384.05,84.11 L384.48,84.12 L384.91,84.12 L385.34,84.12 L385.77,84.12 L386.2,84.12 L386.63,84.12 L387.06,84.13 L387.49,84.13 L387.92,84.13 L388.35,84.13 L388.78,84.14 L389.21,84.14 L389.64,84.14 L390.07,84.15 L390.5,84.15 L390.93,84.15 L391.36,84.16 L391.79,84.16 L392.22,84.17 L392.65,84.18 L393.08,84.18 L393.51,84.19 L393.94,84.2 L394.37,84.21 L394.8,84.21 L395.23,84.22 L395.66,84.23 L396.09,84.24 L396.52,84.26 L396.95,84.27 L397.38,84.28 L397.81,84.3 L398.24,84.31 L398.67,84.33 L399.1,84.34 L399.53,84.36 L399.96,84.38 L400.39,84.4 L400.82,84.42 L401.25,84.44 L401.69,84.47 L402.12,84.49 L402.55,84.52 L402.98,84.54 L403.41,84.57 L403.84,84.6 L404.27,84.63 L404.7,84.66 L405.13,84.69 L405.56,84.72 L405.99,84.75 L406.42,84.78 L406.85,84.82 L407.28,84.85 L407.71,84.88 L408.14,84.91 L408.57,84.94 L409,84.98 L409.43,85.01 L409.86,85.04 L410.29,85.07 L410.72,85.1 L411.15,85.13 L411.58,85.15 L412.01,85.18 L412.44,85.2 L412.87,85.23 L413.3,85.25 L413.73,85.28 L414.16,85.3 L414.59,85.32 L415.02,85.34 L415.45,85.35 L415.88,85.37 L416.31,85.39 L416.74,85.4 L417.17,85.42 L417.6,85.43 L418.03,85.44 L418.46,85.45 L418.89,85.47 L419.32,85.48 L419.75,85.49 L420.18,85.49 L420.61,85.5 L421.04,85.51 L421.47,85.52 L421.9,85.52 L422.33,85.53 L422.76,85.53 L423.19,85.54 L423.63,85.54 L424.06,85.55 L424.49,85.55 L424.92,85.56 L425.35,85.56 L425.78,85.56 L426.21,85.57 L426.64,85.57 L427.07,85.57 L427.5,85.57 L427.93,85.58 L428.36,85.58 L428.79,85.58 L429.22,85.58 L429.65,85.58 L430.08,85.58 L430.51,85.59 L430.94,85.59 L431.37,85.59 L431.8,85.59 L432.23,85.59 L432.66,85.59 L433.09,85.59 L433.52,85.59 L433.95,85.59 L434.38,85.59 L434.81,85.59 L435.24,85.59 L435.67,85.59 L436.1,85.6 L436.53,85.6 L436.96,85.6 L437.39,85.6 L437.82,85.6 L438.25,85.6 L438.68,85.6 L439.11,85.6 L439.54,85.6 L439.97,85.6 L440.4,85.6 L440.83,85.6 L441.26,85.6 L441.69,85.6 L442.12,85.6 L442.55,85.6 L442.98,85.6 L443.41,85.6 L443.84,85.6 L444.27,85.6 L444.7,85.6 L445.14,85.6 L445.57,85.6 L446,85.6 L446.43,85.6 L446.86,85.6 L447.29,85.6 L447.72,85.6 L448.15,85.6 L448.58,85.6 L449.01,85.6 L449.44,85.6 L449.87,85.6 L450.3,85.6 L450.73,85.6 L451.16,85.6 L451.59,85.6 L452.02,85.6 L452.45,85.6 L452.88,85.6 L453.31,85.6 L453.74,85.6 L454.17,85.6 L454.6,85.6 L455.03,85.6 L455.46,85.6 L455.89,85.6 L456.32,85.6 L456.75,85.6 L457.18,85.6 L457.61,85.61 L458.04,85.61 L458.47,85.61 L458.9,85.61 L459.33,85.61 L459.76,85.61 L460.19,85.61 L460.62,85.61 L461.05,85.61 L461.48,85.61 L461.91,85.61 L462.34,85.61 L462.77,85.62 L463.2,85.62 L463.63,85.62 L464.06,85.62 L464.49,85.62 L464.92,85.62 L465.35,85.63 L465.78,85.63 L466.22,85.63 L466.65,85.63 L467.08,85.64 L467.51,85.64 L467.94,85.64 L468.37,85.65 L468.8,85.65 L469.23,85.65 L469.66,85.66 L470.09,85.66 L470.52,85.67 L470.95,85.68 L471.38,85.68 L471.81,85.69 L472.24,85.7 L472.67,85.71 L473.1,85.72 L473.53,85.73 L473.96,85.74 L474.39,85.75 L474.82,85.76 L475.25,85.77 L475.68,85.79 L476.11,85.8 L476.54,85.82 L476.97,85.84 L477.4,85.86 L477.83,85.88 L478.26,85.9 L478.69,85.93 L479.12,85.95 L479.55,85.98 L479.98,86.01 L480.41,86.04 L480.84,86.07 L481.27,86.11 L481.7,86.15 L482.13,86.19 L482.56,86.23 L482.99,86.27 L483.42,86.32 L483.85,86.36 L484.28,86.41 L484.71,86.46 L485.14,86.52 L485.57,86.57 L486,86.63 L486.43,86.69 L486.86,86.74 L487.29,86.81 L487.73,86.87 L488.16,86.93 L488.59,86.99 L489.02,87.05 L489.45,87.11 L489.88,87.18 L490.31,87.24 L490.74,87.3 L491.17,87.36 L491.6,87.42 L492.03,87.48 L492.46,87.53 L492.89,87.59 L493.32,87.64 L493.75,87.69 L494.18,87.74 L494.61,87.79 L495.04,87.83 L495.47,87.88 L495.9,87.92 L496.33,87.96 L496.76,87.99 L497.19,88.03 L497.62,88.06 L498.05,88.09 L498.48,88.12 L498.91,88.15 L499.34,88.17 L499.77,88.2 L500.2,88.22 L500.63,88.24 L501.06,88.26 L501.49,88.28 L501.92,88.3 L502.35,88.31 L502.78,88.33 L503.21,88.34 L503.64,88.35 L504.07,88.36 L504.5,88.38 L504.93,88.38 L505.36,88.39 L505.79,88.4 L506.22,88.41 L506.65,88.42 L507.08,88.42 L507.51,88.43 L507.94,88.44 L508.37,88.44 L508.8,88.45 L509.24,88.45 L509.67,88.45 L510.1,88.46 L510.53,88.46 L510.96,88.46 L511.39,88.47 L511.82,88.47 L512.25,88.47 L512.68,88.47 L513.11,88.48 L513.54,88.48 L513.97,88.48 L514.4,88.48 L514.83,88.48 L515.26,88.48 L515.69,88.49 L516.12,88.49 L516.55,88.49 L516.98,88.49 L517.41,88.49 L517.84,88.49 L518.27,88.49 L518.7,88.49 L519.13,88.49 L519.56,88.49 L519.99,88.49 L520.42,88.49 L520.85,88.5 L521.28,88.5 L521.71,88.5 L522.14,88.5 L522.57,88.5 L523,88.5 L523.43,88.5 L523.86,88.5 L524.29,88.5 L524.72,88.5 L525.15,88.5 L525.58,88.5 L526.01,88.5 L526.44,88.5 L526.87,88.5 L527.3,88.5 L527.73,88.5 L528.16,88.5 L528.59,88.5 L529.02,88.5 L529.45,88.5 L529.88,88.5 L530.31,88.5 L530.75,88.5 L531.18,88.5 L531.61,88.5 L532.04,88.5 L532.47,88.5 L532.9,88.5 L533.33,88.5 L533.76,88.5 L534.19,88.5 L534.62,88.5 L535.05,88.5 L535.48,88.5 L535.91,88.5 L536.34,88.5 L536.77,88.5 L537.2,88.5 L537.63,88.5 L538.06,88.5 L538.49,88.5 L538.92,88.5" fill="none" stroke="#2e6fe0" stroke-width="1.3"/>
<path d="M326.9,83.93 L327.33,83.92 L327.76,83.91 L328.19,83.91 L328.62,83.9 L329.05,83.89 L329.48,83.88 L329.91,83.87 L330.34,83.86 L330.77,83.85 L331.2,83.84 L331.63,83.83 L332.06,83.82 L332.49,83.81 L332.92,83.8 L333.35,83.79 L333.78,83.77 L334.21,83.76 L334.64,83.75 L335.07,83.74 L335.5,83.72 L335.93,83.71 L336.36,83.7 L336.79,83.68 L337.22,83.67 L337.65,83.65 L338.09,83.64 L338.52,83.63 L338.95,83.61 L339.38,83.6 L339.81,83.58 L340.24,83.57 L340.67,83.56 L341.1,83.54 L341.53,83.53 L341.96,83.51 L342.39,83.5 L342.82,83.49 L343.25,83.48 L343.68,83.46 L344.11,83.45 L344.54,83.44 L344.97,83.43 L345.4,83.42 L345.83,83.41 L346.26,83.4 L346.69,83.39 L347.12,83.39 L347.55,83.38 L347.98,83.37 L348.41,83.37 L348.84,83.36 L349.27,83.36 L349.7,83.35 L350.13,83.35 L350.56,83.35 L350.99,83.35 L351.42,83.34 L351.85,83.34 L352.28,83.35 L352.71,83.35 L353.14,83.35 L353.57,83.35 L354,83.35 L354.43,83.36 L354.86,83.36 L355.29,83.37 L355.72,83.37 L356.15,83.38 L356.58,83.39 L357.01,83.39 L357.44,83.4 L357.87,83.41 L358.3,83.42 L358.73,83.43 L359.16,83.44 L359.6,83.44 L360.03,83.45 L360.46,83.46 L360.89,83.47 L361.32,83.48 L361.75,83.49 L362.18,83.5 L362.61,83.51 L363.04,83.52 L363.47,83.53 L363.9,83.54 L364.33,83.54 L364.76,83.55 L365.19,83.56 L365.62,83.57 L366.05,83.58 L366.48,83.58 L366.91,83.59 L367.34,83.6 L367.77,83.6 L368.2,83.61 L368.63,83.61 L369.06,83.62 L369.49,83.62 L369.92,83.62 L370.35,83.63 L370.78,83.63 L371.21,83.63 L371.64,83.63 L372.07,83.63 L372.5,83.63 L372.93,83.63 L373.36,83.63 L373.79,83.63 L374.22,83.63 L374.65,83.62 L375.08,83.62 L375.51,83.62 L375.94,83.61 L376.37,83.61 L376.8,83.6 L377.23,83.59 L377.66,83.58 L378.09,83.58 L378.52,83.57 L378.95,83.56 L379.38,83.55 L379.81,83.54 L380.24,83.52 L380.67,83.51 L381.11,83.5 L381.54,83.48 L381.97,83.46 L382.4,83.45 L382.83,83.43 L383.26,83.41 L383.69,83.39 L384.12,83.36 L384.55,83.34 L384.98,83.31 L385.41,83.28 L385.84,83.24 L386.27,83.2 L386.7,83.16 L387.13,83.11 L387.56,83.06 L387.99,83 L388.42,82.93 L388.85,82.85 L389.28,82.75 L389.71,82.65 L390.14,82.52 L390.57,82.38 L391,82.21 L391.43,82.02 L391.86,81.8 L392.29,81.55 L392.72,81.26 L393.15,80.92 L393.58,80.54 L394.01,80.1 L394.44,79.61 L394.87,79.06 L395.3,78.43 L395.73,77.73 L396.16,76.95 L396.59,76.09 L397.02,75.14 L397.45,74.1 L397.88,72.97 L398.31,71.74 L398.74,70.42 L399.17,69 L399.6,67.5 L400.03,65.9 L400.46,64.22 L400.89,62.46 L401.32,60.64 L401.75,58.76 L402.19,56.83 L402.62,54.86 L403.05,52.88 L403.48,50.9 L403.91,48.95 L404.34,47.04 L404.77,45.22 L405.2,43.5 L405.63,41.94 L406.06,40.58 L406.49,39.46 L406.92,38.63 L407.35,38.12 L407.78,37.95 L408.21,38.14 L408.64,38.68 L409.07,39.54 L409.5,40.7 L409.93,42.1 L410.36,43.7 L410.79,45.45 L411.22,47.33 L411.65,49.28 L412.08,51.28 L412.51,53.31 L412.94,55.34 L413.37,57.35 L413.8,59.33 L414.23,61.26 L414.66,63.14 L415.09,64.94 L415.52,66.66 L415.95,68.3 L416.38,69.85 L416.81,71.31 L417.24,72.67 L417.67,73.93 L418.1,75.1 L418.53,76.17 L418.96,77.15 L419.39,78.04 L419.82,78.84 L420.25,79.57 L420.68,80.22 L421.11,80.79 L421.54,81.3 L421.97,81.75 L422.4,82.15 L422.83,82.5 L423.26,82.8 L423.69,83.06 L424.13,83.29 L424.56,83.48 L424.99,83.65 L425.42,83.8 L425.85,83.92 L426.28,84.02 L426.71,84.11 L427.14,84.19 L427.57,84.25 L428,84.3 L428.43,84.34 L428.86,84.37 L429.29,84.39 L429.72,84.41 L430.15,84.42 L430.58,84.43 L431.01,84.43 L431.44,84.43 L431.87,84.42 L432.3,84.41 L432.73,84.39 L433.16,84.37 L433.59,84.35 L434.02,84.33 L434.45,84.31 L434.88,84.28 L435.31,84.25 L435.74,84.23 L436.17,84.2 L436.6,84.18 L437.03,84.16 L437.46,84.13 L437.89,84.12 L438.32,84.1 L438.75,84.09 L439.18,84.08 L439.61,84.07 L440.04,84.07 L440.47,84.07 L440.9,84.08 L441.33,84.09 L441.76,84.1 L442.19,84.12 L442.62,84.15 L443.05,84.17 L443.48,84.2 L443.91,84.23 L444.34,84.27 L444.77,84.3 L445.2,84.34 L445.64,84.38 L446.07,84.41 L446.5,84.45 L446.93,84.49 L447.36,84.53 L447.79,84.56 L448.22,84.6 L448.65,84.63 L449.08,84.66 L449.51,84.69 L449.94,84.72 L450.37,84.74 L450.8,84.76 L451.23,84.78 L451.66,84.8 L452.09,84.81 L452.52,84.82 L452.95,84.83 L453.38,84.84 L453.81,84.85 L454.24,84.85 L454.67,84.85 L455.1,84.85 L455.53,84.85 L455.96,84.84 L456.39,84.84 L456.82,84.83 L457.25,84.82 L457.68,84.81 L458.11,84.8 L458.54,84.79 L458.97,84.78 L459.4,84.76 L459.83,84.75 L460.26,84.73 L460.69,84.72 L461.12,84.7 L461.55,84.68 L461.98,84.66 L462.41,84.63 L462.84,84.61 L463.27,84.58 L463.7,84.55 L464.13,84.52 L464.56,84.49 L464.99,84.46 L465.42,84.42 L465.85,84.37 L466.28,84.33 L466.72,84.28 L467.15,84.22 L467.58,84.16 L468.01,84.08 L468.44,84 L468.87,83.91 L469.3,83.8 L469.73,83.68 L470.16,83.54 L470.59,83.39 L471.02,83.2 L471.45,82.99 L471.88,82.75 L472.31,82.48 L472.74,82.17 L473.17,81.81 L473.6,81.4 L474.03,80.93 L474.46,80.4 L474.89,79.8 L475.32,79.13 L475.75,78.38 L476.18,77.54 L476.61,76.6 L477.04,75.56 L477.47,74.42 L477.9,73.16 L478.33,71.79 L478.76,70.3 L479.19,68.69 L479.62,66.96 L480.05,65.1 L480.48,63.12 L480.91,61.03 L481.34,58.82 L481.77,56.51 L482.2,54.1 L482.63,51.6 L483.06,49.02 L483.49,46.39 L483.92,43.71 L484.35,41.01 L484.78,38.3 L485.21,35.61 L485.64,32.98 L486.07,30.43 L486.5,28.01 L486.93,25.76 L487.36,23.74 L487.79,21.99 L488.23,20.58 L488.66,19.55 L489.09,18.94 L489.52,18.79 L489.95,19.1 L490.38,19.87 L490.81,21.05 L491.24,22.61 L491.67,24.5 L492.1,26.66 L492.53,29.04 L492.96,31.59 L493.39,34.25 L493.82,37 L494.25,39.79 L494.68,42.6 L495.11,45.4 L495.54,48.17 L495.97,50.88 L496.4,53.54 L496.83,56.11 L497.26,58.59 L497.69,60.97 L498.12,63.23 L498.55,65.38 L498.98,67.41 L499.41,69.32 L499.84,71.09 L500.27,72.75 L500.7,74.27 L501.13,75.68 L501.56,76.97 L501.99,78.14 L502.42,79.2 L502.85,80.17 L503.28,81.03 L503.71,81.81 L504.14,82.5 L504.57,83.12 L505,83.66 L505.43,84.15 L505.86,84.57 L506.29,84.95 L506.72,85.28 L507.15,85.56 L507.58,85.82 L508.01,86.04 L508.44,86.23 L508.87,86.4 L509.3,86.55 L509.74,86.68 L510.17,86.79 L510.6,86.89 L511.03,86.98 L511.46,87.06 L511.89,87.13 L512.32,87.2 L512.75,87.26 L513.18,87.31 L513.61,87.36 L514.04,87.4 L514.47,87.44 L514.9,87.48 L515.33,87.51 L515.76,87.55 L516.19,87.58 L516.62,87.61 L517.05,87.64 L517.48,87.66 L517.91,87.69 L518.34,87.71 L518.77,87.73 L519.2,87.75 L519.63,87.77 L520.06,87.79 L520.49,87.81 L520.92,87.83 L521.35,87.85 L521.78,87.86 L522.21,87.88 L522.64,87.89 L523.07,87.91 L523.5,87.92 L523.93,87.94 L524.36,87.95 L524.79,87.96 L525.22,87.98 L525.65,87.99 L526.08,88 L526.51,88.01 L526.94,88.02 L527.37,88.03 L527.8,88.04 L528.23,88.05 L528.66,88.06 L529.09,88.07 L529.52,88.08 L529.95,88.09 L530.38,88.09 L530.81,88.1 L531.25,88.11 L531.68,88.12 L532.11,88.12 L532.54,88.13 L532.97,88.14 L533.4,88.14 L533.83,88.15 L534.26,88.16 L534.69,88.16 L535.12,88.17 L535.55,88.18 L535.98,88.18 L536.41,88.19 L536.84,88.19 L537.27,88.2 L537.7,88.2 L538.13,88.21 L538.56,88.21 L538.99,88.22 L539.42,88.22 L539.85,88.23 L540.28,88.23 L540.71,88.23 L541.14,88.24 L541.57,88.24 L542,88.25" fill="none" stroke="#111" stroke-width="1.7"/>
<path d="M326.4,84.05 L326.83,84.05 L327.26,84.05 L327.69,84.04 L328.12,84.04 L328.55,84.04 L328.98,84.04 L329.41,84.04 L329.84,84.04 L330.27,84.04 L330.7,84.04 L331.13,84.04 L331.56,84.04 L331.99,84.04 L332.42,84.04 L332.85,84.04 L333.28,84.04 L333.71,84.04 L334.14,84.03 L334.57,84.03 L335,84.03 L335.43,84.03 L335.86,84.03 L336.29,84.03 L336.72,84.03 L337.15,84.03 L337.59,84.03 L338.02,84.03 L338.45,84.03 L338.88,84.03 L339.31,84.02 L339.74,84.02 L340.17,84.02 L340.6,84.02 L341.03,84.02 L341.46,84.02 L341.89,84.02 L342.32,84.02 L342.75,84.02 L343.18,84.02 L343.61,84.01 L344.04,84.01 L344.47,84.01 L344.9,84.01 L345.33,84.01 L345.76,84.01 L346.19,84.01 L346.62,84.01 L347.05,84 L347.48,84 L347.91,84 L348.34,84 L348.77,84 L349.2,84 L349.63,84 L350.06,83.99 L350.49,83.99 L350.92,83.99 L351.35,83.99 L351.78,83.99 L352.21,83.99 L352.64,83.98 L353.07,83.98 L353.5,83.98 L353.93,83.98 L354.36,83.98 L354.79,83.97 L355.22,83.97 L355.65,83.97 L356.08,83.97 L356.51,83.97 L356.94,83.96 L357.37,83.96 L357.8,83.96 L358.23,83.96 L358.66,83.95 L359.1,83.95 L359.53,83.95 L359.96,83.95 L360.39,83.94 L360.82,83.94 L361.25,83.94 L361.68,83.93 L362.11,83.93 L362.54,83.93 L362.97,83.92 L363.4,83.92 L363.83,83.92 L364.26,83.91 L364.69,83.91 L365.12,83.91 L365.55,83.9 L365.98,83.9 L366.41,83.89 L366.84,83.89 L367.27,83.88 L367.7,83.88 L368.13,83.88 L368.56,83.87 L368.99,83.87 L369.42,83.86 L369.85,83.85 L370.28,83.85 L370.71,83.84 L371.14,83.84 L371.57,83.83 L372,83.83 L372.43,83.82 L372.86,83.81 L373.29,83.8 L373.72,83.8 L374.15,83.79 L374.58,83.78 L375.01,83.77 L375.44,83.77 L375.87,83.76 L376.3,83.75 L376.73,83.74 L377.16,83.73 L377.59,83.72 L378.02,83.71 L378.45,83.7 L378.88,83.68 L379.31,83.67 L379.74,83.66 L380.17,83.64 L380.61,83.63 L381.04,83.62 L381.47,83.6 L381.9,83.58 L382.33,83.57 L382.76,83.55 L383.19,83.53 L383.62,83.51 L384.05,83.49 L384.48,83.46 L384.91,83.44 L385.34,83.41 L385.77,83.38 L386.2,83.35 L386.63,83.31 L387.06,83.27 L387.49,83.22 L387.92,83.17 L388.35,83.11 L388.78,83.04 L389.21,82.97 L389.64,82.87 L390.07,82.77 L390.5,82.64 L390.93,82.5 L391.36,82.33 L391.79,82.14 L392.22,81.91 L392.65,81.64 L393.08,81.33 L393.51,80.98 L393.94,80.57 L394.37,80.1 L394.8,79.56 L395.23,78.95 L395.66,78.27 L396.09,77.49 L396.52,76.63 L396.95,75.67 L397.38,74.61 L397.81,73.44 L398.24,72.17 L398.67,70.79 L399.1,69.31 L399.53,67.72 L399.96,66.04 L400.39,64.26 L400.82,62.39 L401.25,60.45 L401.69,58.44 L402.12,56.39 L402.55,54.3 L402.98,52.2 L403.41,50.11 L403.84,48.06 L404.27,46.08 L404.7,44.21 L405.13,42.5 L405.56,40.99 L405.99,39.75 L406.42,38.81 L406.85,38.24 L407.28,38.05 L407.71,38.26 L408.14,38.86 L408.57,39.82 L409,41.1 L409.43,42.64 L409.86,44.4 L410.29,46.31 L410.72,48.34 L411.15,50.44 L411.58,52.59 L412.01,54.74 L412.44,56.88 L412.87,58.99 L413.3,61.05 L413.73,63.04 L414.16,64.96 L414.59,66.79 L415.02,68.53 L415.45,70.16 L415.88,71.69 L416.31,73.11 L416.74,74.42 L417.17,75.62 L417.6,76.72 L418.03,77.72 L418.46,78.62 L418.89,79.42 L419.32,80.14 L419.75,80.77 L420.18,81.33 L420.61,81.83 L421.04,82.26 L421.47,82.63 L421.9,82.96 L422.33,83.24 L422.76,83.48 L423.19,83.69 L423.63,83.87 L424.06,84.03 L424.49,84.16 L424.92,84.28 L425.35,84.38 L425.78,84.46 L426.21,84.54 L426.64,84.6 L427.07,84.66 L427.5,84.71 L427.93,84.76 L428.36,84.8 L428.79,84.84 L429.22,84.87 L429.65,84.9 L430.08,84.93 L430.51,84.96 L430.94,84.98 L431.37,85 L431.8,85.03 L432.23,85.05 L432.66,85.06 L433.09,85.08 L433.52,85.1 L433.95,85.12 L434.38,85.13 L434.81,85.14 L435.24,85.16 L435.67,85.17 L436.1,85.18 L436.53,85.2 L436.96,85.21 L437.39,85.22 L437.82,85.23 L438.25,85.24 L438.68,85.25 L439.11,85.26 L439.54,85.27 L439.97,85.28 L440.4,85.29 L440.83,85.29 L441.26,85.3 L441.69,85.31 L442.12,85.32 L442.55,85.32 L442.98,85.33 L443.41,85.34 L443.84,85.34 L444.27,85.35 L444.7,85.35 L445.14,85.36 L445.57,85.36 L446,85.37 L446.43,85.37 L446.86,85.38 L447.29,85.38 L447.72,85.39 L448.15,85.39 L448.58,85.4 L449.01,85.4 L449.44,85.41 L449.87,85.41 L450.3,85.41 L450.73,85.42 L451.16,85.42 L451.59,85.42 L452.02,85.43 L452.45,85.43 L452.88,85.43 L453.31,85.44 L453.74,85.44 L454.17,85.44 L454.6,85.45 L455.03,85.45 L455.46,85.45 L455.89,85.46 L456.32,85.46 L456.75,85.46 L457.18,85.47 L457.61,85.47 L458.04,85.47 L458.47,85.47 L458.9,85.48 L459.33,85.48 L459.76,85.48 L460.19,85.48 L460.62,85.49 L461.05,85.49 L461.48,85.49 L461.91,85.5 L462.34,85.5 L462.77,85.5 L463.2,85.51 L463.63,85.51 L464.06,85.51 L464.49,85.51 L464.92,85.52 L465.35,85.52 L465.78,85.53 L466.22,85.53 L466.65,85.53 L467.08,85.54 L467.51,85.54 L467.94,85.55 L468.37,85.55 L468.8,85.56 L469.23,85.56 L469.66,85.57 L470.09,85.58 L470.52,85.58 L470.95,85.59 L471.38,85.6 L471.81,85.61 L472.24,85.62 L472.67,85.62 L473.1,85.64 L473.53,85.65 L473.96,85.66 L474.39,85.67 L474.82,85.68 L475.25,85.7 L475.68,85.71 L476.11,85.73 L476.54,85.75 L476.97,85.77 L477.4,85.79 L477.83,85.81 L478.26,85.83 L478.69,85.86 L479.12,85.89 L479.55,85.91 L479.98,85.94 L480.41,85.98 L480.84,86.01 L481.27,86.05 L481.7,86.08 L482.13,86.12 L482.56,86.17 L482.99,86.21 L483.42,86.26 L483.85,86.3 L484.28,86.35 L484.71,86.41 L485.14,86.46 L485.57,86.51 L486,86.57 L486.43,86.63 L486.86,86.69 L487.29,86.75 L487.73,86.81 L488.16,86.87 L488.59,86.94 L489.02,87 L489.45,87.06 L489.88,87.13 L490.31,87.19 L490.74,87.25 L491.17,87.31 L491.6,87.37 L492.03,87.43 L492.46,87.48 L492.89,87.54 L493.32,87.59 L493.75,87.64 L494.18,87.69 L494.61,87.74 L495.04,87.79 L495.47,87.83 L495.9,87.87 L496.33,87.91 L496.76,87.95 L497.19,87.98 L497.62,88.02 L498.05,88.05 L498.48,88.08 L498.91,88.11 L499.34,88.13 L499.77,88.16 L500.2,88.18 L500.63,88.2 L501.06,88.22 L501.49,88.24 L501.92,88.26 L502.35,88.27 L502.78,88.29 L503.21,88.3 L503.64,88.32 L504.07,88.33 L504.5,88.34 L504.93,88.35 L505.36,88.36 L505.79,88.37 L506.22,88.37 L506.65,88.38 L507.08,88.39 L507.51,88.4 L507.94,88.4 L508.37,88.41 L508.8,88.41 L509.24,88.42 L509.67,88.42 L510.1,88.42 L510.53,88.43 L510.96,88.43 L511.39,88.44 L511.82,88.44 L512.25,88.44 L512.68,88.44 L513.11,88.45 L513.54,88.45 L513.97,88.45 L514.4,88.45 L514.83,88.45 L515.26,88.45 L515.69,88.46 L516.12,88.46 L516.55,88.46 L516.98,88.46 L517.41,88.46 L517.84,88.46 L518.27,88.46 L518.7,88.46 L519.13,88.47 L519.56,88.47 L519.99,88.47 L520.42,88.47 L520.85,88.47 L521.28,88.47 L521.71,88.47 L522.14,88.47 L522.57,88.47 L523,88.47 L523.43,88.47 L523.86,88.47 L524.29,88.47 L524.72,88.47 L525.15,88.47 L525.58,88.47 L526.01,88.47 L526.44,88.47 L526.87,88.47 L527.3,88.47 L527.73,88.47 L528.16,88.47 L528.59,88.48 L529.02,88.48 L529.45,88.48 L529.88,88.48 L530.31,88.48 L530.75,88.48 L531.18,88.48 L531.61,88.48 L532.04,88.48 L532.47,88.48 L532.9,88.48 L533.33,88.48 L533.76,88.48 L534.19,88.48 L534.62,88.48 L535.05,88.48 L535.48,88.48 L535.91,88.48 L536.34,88.48 L536.77,88.48 L537.2,88.48 L537.63,88.48 L538.06,88.48 L538.49,88.48 L538.92,88.48 L539.35,88.48 L539.78,88.48 L540.21,88.48 L540.64,88.48 L541.07,88.48 L541.5,88.48" fill="none" stroke="#2e9a4e" stroke-width="1.5"/>
<path d="M464.06,84.73 L464.49,84.7 L464.92,84.66 L465.35,84.63 L465.78,84.59 L466.22,84.55 L466.65,84.5 L467.08,84.45 L467.51,84.4 L467.94,84.34 L468.37,84.27 L468.8,84.19 L469.23,84.1 L469.66,83.99 L470.09,83.88 L470.52,83.74 L470.95,83.58 L471.38,83.4 L471.81,83.19 L472.24,82.95 L472.67,82.67 L473.1,82.35 L473.53,81.98 L473.96,81.55 L474.39,81.06 L474.82,80.5 L475.25,79.86 L475.68,79.14 L476.11,78.33 L476.54,77.41 L476.97,76.39 L477.4,75.25 L477.83,73.99 L478.26,72.6 L478.69,71.08 L479.12,69.43 L479.55,67.64 L479.98,65.7 L480.41,63.64 L480.84,61.44 L481.27,59.11 L481.7,56.66 L482.13,54.1 L482.56,51.45 L482.99,48.71 L483.42,45.9 L483.85,43.05 L484.28,40.18 L484.71,37.31 L485.14,34.48 L485.57,31.73 L486,29.09 L486.43,26.63 L486.86,24.39 L487.29,22.45 L487.73,20.87 L488.16,19.72 L488.59,19.03 L489.02,18.85 L489.45,19.19 L489.88,20.04 L490.31,21.35 L490.74,23.08 L491.17,25.17 L491.6,27.54 L492.03,30.13 L492.46,32.89 L492.89,35.76 L493.32,38.7 L493.75,41.67 L494.18,44.64 L494.61,47.58 L495.04,50.47 L495.47,53.29 L495.9,56.02 L496.33,58.65 L496.76,61.17 L497.19,63.56 L497.62,65.81 L498.05,67.93 L498.48,69.91 L498.91,71.75 L499.34,73.45 L499.77,75.01 L500.2,76.43 L500.63,77.72 L501.06,78.89 L501.49,79.94 L501.92,80.88 L502.35,81.72 L502.78,82.47 L503.21,83.13 L503.64,83.7 L504.07,84.21 L504.5,84.66 L504.93,85.05 L505.36,85.38 L505.79,85.68 L506.22,85.93 L506.65,86.15 L507.08,86.34 L507.51,86.51 L507.94,86.66 L508.37,86.78 L508.8,86.9 L509.24,86.99 L509.67,87.08 L510.1,87.16 L510.53,87.23 L510.96,87.29 L511.39,87.34 L511.82,87.39 L512.25,87.44 L512.68,87.48" fill="none" stroke="#1f5fe0" stroke-width="1.6"/>
<path d="M326.4,170.8 L326.83,170.8 L327.26,170.8 L327.69,170.8 L328.12,170.8 L328.55,170.8 L328.98,170.8 L329.41,170.8 L329.84,170.8 L330.27,170.8 L330.7,170.8 L331.13,170.8 L331.56,170.8 L331.99,170.8 L332.42,170.8 L332.85,170.8 L333.28,170.8 L333.71,170.8 L334.14,170.8 L334.57,170.8 L335,170.8 L335.43,170.8 L335.86,170.8 L336.29,170.8 L336.72,170.8 L337.15,170.8 L337.59,170.8 L338.02,170.8 L338.45,170.8 L338.88,170.8 L339.31,170.8 L339.74,170.8 L340.17,170.8 L340.6,170.8 L341.03,170.8 L341.46,170.8 L341.89,170.8 L342.32,170.8 L342.75,170.8 L343.18,170.8 L343.61,170.8 L344.04,170.8 L344.47,170.8 L344.9,170.8 L345.33,170.8 L345.76,170.8 L346.19,170.8 L346.62,170.8 L347.05,170.8 L347.48,170.8 L347.91,170.8 L348.34,170.8 L348.77,170.8 L349.2,170.8 L349.63,170.8 L350.06,170.8 L350.49,170.8 L350.92,170.8 L351.35,170.8 L351.78,170.8 L352.21,170.8 L352.64,170.8 L353.07,170.8 L353.5,170.8 L353.93,170.8 L354.36,170.8 L354.79,170.8 L355.22,170.8 L355.65,170.8 L356.08,170.8 L356.51,170.8 L356.94,170.8 L357.37,170.8 L357.8,170.8 L358.23,170.8 L358.66,170.8 L359.1,170.8 L359.53,170.8 L359.96,170.8 L360.39,170.8 L360.82,170.8 L361.25,170.8 L361.68,170.8 L362.11,170.8 L362.54,170.8 L362.97,170.8 L363.4,170.8 L363.83,170.8 L364.26,170.8 L364.69,170.8 L365.12,170.8 L365.55,170.8 L365.98,170.8 L366.41,170.8 L366.84,170.8 L367.27,170.8 L367.7,170.8 L368.13,170.8 L368.56,170.8 L368.99,170.8 L369.42,170.8 L369.85,170.8 L370.28,170.8 L370.71,170.8 L371.14,170.8 L371.57,170.8 L372,170.8 L372.43,170.8 L372.86,170.8 L373.29,170.8 L373.72,170.8 L374.15,170.8 L374.58,170.8 L375.01,170.8 L375.44,170.8 L375.87,170.8 L376.3,170.81 L376.73,170.81 L377.16,170.81 L377.59,170.81 L378.02,170.81 L378.45,170.81 L378.88,170.81 L379.31,170.81 L379.74,170.81 L380.17,170.81 L380.61,170.81 L381.04,170.81 L381.47,170.81 L381.9,170.82 L382.33,170.82 L382.76,170.82 L383.19,170.82 L383.62,170.82 L384.05,170.82 L384.48,170.83 L384.91,170.83 L385.34,170.83 L385.77,170.83 L386.2,170.84 L386.63,170.84 L387.06,170.84 L387.49,170.85 L387.92,170.85 L388.35,170.85 L388.78,170.86 L389.21,170.86 L389.64,170.87 L390.07,170.88 L390.5,170.88 L390.93,170.89 L391.36,170.9 L391.79,170.9 L392.22,170.91 L392.65,170.92 L393.08,170.93 L393.51,170.94 L393.94,170.96 L394.37,170.97 L394.8,170.98 L395.23,171 L395.66,171.01 L396.09,171.03 L396.52,171.04 L396.95,171.06 L397.38,171.08 L397.81,171.1 L398.24,171.12 L398.67,171.15 L399.1,171.17 L399.53,171.2 L399.96,171.22 L400.39,171.25 L400.82,171.28 L401.25,171.31 L401.69,171.34 L402.12,171.37 L402.55,171.4 L402.98,171.43 L403.41,171.47 L403.84,171.5 L404.27,171.53 L404.7,171.57 L405.13,171.6 L405.56,171.64 L405.99,171.67 L406.42,171.7 L406.85,171.74 L407.28,171.77 L407.71,171.8 L408.14,171.84 L408.57,171.87 L409,171.9 L409.43,171.93 L409.86,171.95 L410.29,171.98 L410.72,172.01 L411.15,172.03 L411.58,172.06 L412.01,172.08 L412.44,172.1 L412.87,172.12 L413.3,172.14 L413.73,172.16 L414.16,172.18 L414.59,172.19 L415.02,172.21 L415.45,172.22 L415.88,172.23 L416.31,172.25 L416.74,172.26 L417.17,172.27 L417.6,172.28 L418.03,172.29 L418.46,172.3 L418.89,172.3 L419.32,172.31 L419.75,172.32 L420.18,172.33 L420.61,172.33 L421.04,172.34 L421.47,172.34 L421.9,172.35 L422.33,172.35 L422.76,172.35 L423.19,172.36 L423.63,172.36 L424.06,172.36 L424.49,172.37 L424.92,172.37 L425.35,172.37 L425.78,172.37 L426.21,172.38 L426.64,172.38 L427.07,172.38 L427.5,172.38 L427.93,172.38 L428.36,172.38 L428.79,172.39 L429.22,172.39 L429.65,172.39 L430.08,172.39 L430.51,172.39 L430.94,172.39 L431.37,172.39 L431.8,172.39 L432.23,172.39 L432.66,172.39 L433.09,172.39 L433.52,172.39 L433.95,172.4 L434.38,172.4 L434.81,172.4 L435.24,172.4 L435.67,172.4 L436.1,172.4 L436.53,172.4 L436.96,172.4 L437.39,172.4 L437.82,172.4 L438.25,172.4 L438.68,172.4 L439.11,172.4 L439.54,172.4 L439.97,172.4 L440.4,172.4 L440.83,172.4 L441.26,172.4 L441.69,172.4 L442.12,172.4 L442.55,172.4 L442.98,172.4 L443.41,172.4 L443.84,172.4 L444.27,172.4 L444.7,172.4 L445.14,172.4 L445.57,172.4 L446,172.4 L446.43,172.4 L446.86,172.4 L447.29,172.4 L447.72,172.4 L448.15,172.4 L448.58,172.4 L449.01,172.4 L449.44,172.4 L449.87,172.4 L450.3,172.4 L450.73,172.4 L451.16,172.4 L451.59,172.4 L452.02,172.4 L452.45,172.4 L452.88,172.4 L453.31,172.4 L453.74,172.4 L454.17,172.4 L454.6,172.4 L455.03,172.4 L455.46,172.4 L455.89,172.4 L456.32,172.41 L456.75,172.41 L457.18,172.41 L457.61,172.41 L458.04,172.41 L458.47,172.41 L458.9,172.41 L459.33,172.41 L459.76,172.41 L460.19,172.41 L460.62,172.41 L461.05,172.41 L461.48,172.42 L461.91,172.42 L462.34,172.42 L462.77,172.42 L463.2,172.42 L463.63,172.42 L464.06,172.43 L464.49,172.43 L464.92,172.43 L465.35,172.43 L465.78,172.44 L466.22,172.44 L466.65,172.44 L467.08,172.45 L467.51,172.45 L467.94,172.45 L468.37,172.46 L468.8,172.46 L469.23,172.47 L469.66,172.48 L470.09,172.48 L470.52,172.49 L470.95,172.5 L471.38,172.51 L471.81,172.51 L472.24,172.52 L472.67,172.53 L473.1,172.55 L473.53,172.56 L473.96,172.57 L474.39,172.59 L474.82,172.6 L475.25,172.62 L475.68,172.64 L476.11,172.66 L476.54,172.68 L476.97,172.7 L477.4,172.72 L477.83,172.75 L478.26,172.77 L478.69,172.8 L479.12,172.83 L479.55,172.87 L479.98,172.9 L480.41,172.94 L480.84,172.97 L481.27,173.01 L481.7,173.05 L482.13,173.1 L482.56,173.14 L482.99,173.19 L483.42,173.24 L483.85,173.29 L484.28,173.34 L484.71,173.4 L485.14,173.45 L485.57,173.51 L486,173.56 L486.43,173.62 L486.86,173.68 L487.29,173.74 L487.73,173.79 L488.16,173.85 L488.59,173.91 L489.02,173.97 L489.45,174.02 L489.88,174.08 L490.31,174.13 L490.74,174.18 L491.17,174.24 L491.6,174.29 L492.03,174.33 L492.46,174.38 L492.89,174.42 L493.32,174.47 L493.75,174.51 L494.18,174.55 L494.61,174.58 L495.04,174.62 L495.47,174.65 L495.9,174.68 L496.33,174.71 L496.76,174.74 L497.19,174.77 L497.62,174.79 L498.05,174.81 L498.48,174.83 L498.91,174.85 L499.34,174.87 L499.77,174.89 L500.2,174.91 L500.63,174.92 L501.06,174.94 L501.49,174.95 L501.92,174.96 L502.35,174.97 L502.78,174.98 L503.21,174.99 L503.64,175 L504.07,175.01 L504.5,175.01 L504.93,175.02 L505.36,175.03 L505.79,175.03 L506.22,175.04 L506.65,175.04 L507.08,175.05 L507.51,175.05 L507.94,175.06 L508.37,175.06 L508.8,175.06 L509.24,175.07 L509.67,175.07 L510.1,175.07 L510.53,175.07 L510.96,175.08 L511.39,175.08 L511.82,175.08 L512.25,175.08 L512.68,175.08 L513.11,175.08 L513.54,175.09 L513.97,175.09 L514.4,175.09 L514.83,175.09 L515.26,175.09 L515.69,175.09 L516.12,175.09 L516.55,175.09 L516.98,175.09 L517.41,175.09 L517.84,175.09 L518.27,175.09 L518.7,175.09 L519.13,175.1 L519.56,175.1 L519.99,175.1 L520.42,175.1 L520.85,175.1 L521.28,175.1 L521.71,175.1 L522.14,175.1 L522.57,175.1 L523,175.1 L523.43,175.1 L523.86,175.1 L524.29,175.1 L524.72,175.1 L525.15,175.1 L525.58,175.1 L526.01,175.1 L526.44,175.1 L526.87,175.1 L527.3,175.1 L527.73,175.1 L528.16,175.1 L528.59,175.1 L529.02,175.1 L529.45,175.1 L529.88,175.1 L530.31,175.1 L530.75,175.1 L531.18,175.1 L531.61,175.1 L532.04,175.1 L532.47,175.1 L532.9,175.1 L533.33,175.1 L533.76,175.1 L534.19,175.1 L534.62,175.1 L535.05,175.1 L535.48,175.1 L535.91,175.1 L536.34,175.1 L536.77,175.1 L537.2,175.1 L537.63,175.1 L538.06,175.1 L538.49,175.1 L538.92,175.1" fill="none" stroke="#2e6fe0" stroke-width="1.3"/>
<path d="M326.9,170.63 L327.33,170.62 L327.76,170.61 L328.19,170.6 L328.62,170.6 L329.05,170.59 L329.48,170.58 L329.91,170.57 L330.34,170.56 L330.77,170.55 L331.2,170.54 L331.63,170.53 L332.06,170.52 L332.49,170.51 L332.92,170.49 L333.35,170.48 L333.78,170.47 L334.21,170.46 L334.64,170.44 L335.07,170.43 L335.5,170.42 L335.93,170.4 L336.36,170.39 L336.79,170.38 L337.22,170.36 L337.65,170.35 L338.09,170.33 L338.52,170.32 L338.95,170.31 L339.38,170.29 L339.81,170.28 L340.24,170.26 L340.67,170.25 L341.1,170.24 L341.53,170.22 L341.96,170.21 L342.39,170.19 L342.82,170.18 L343.25,170.17 L343.68,170.16 L344.11,170.15 L344.54,170.13 L344.97,170.12 L345.4,170.11 L345.83,170.1 L346.26,170.09 L346.69,170.09 L347.12,170.08 L347.55,170.07 L347.98,170.06 L348.41,170.06 L348.84,170.05 L349.27,170.05 L349.7,170.04 L350.13,170.04 L350.56,170.04 L350.99,170.04 L351.42,170.03 L351.85,170.03 L352.28,170.03 L352.71,170.04 L353.14,170.04 L353.57,170.04 L354,170.04 L354.43,170.05 L354.86,170.05 L355.29,170.06 L355.72,170.06 L356.15,170.07 L356.58,170.07 L357.01,170.08 L357.44,170.09 L357.87,170.09 L358.3,170.1 L358.73,170.11 L359.16,170.12 L359.6,170.13 L360.03,170.14 L360.46,170.14 L360.89,170.15 L361.32,170.16 L361.75,170.17 L362.18,170.18 L362.61,170.19 L363.04,170.2 L363.47,170.21 L363.9,170.21 L364.33,170.22 L364.76,170.23 L365.19,170.24 L365.62,170.24 L366.05,170.25 L366.48,170.26 L366.91,170.26 L367.34,170.27 L367.77,170.27 L368.2,170.28 L368.63,170.28 L369.06,170.28 L369.49,170.29 L369.92,170.29 L370.35,170.29 L370.78,170.29 L371.21,170.29 L371.64,170.29 L372.07,170.29 L372.5,170.29 L372.93,170.29 L373.36,170.28 L373.79,170.28 L374.22,170.28 L374.65,170.27 L375.08,170.27 L375.51,170.26 L375.94,170.25 L376.37,170.24 L376.8,170.23 L377.23,170.22 L377.66,170.21 L378.09,170.2 L378.52,170.19 L378.95,170.18 L379.38,170.16 L379.81,170.15 L380.24,170.13 L380.67,170.11 L381.11,170.09 L381.54,170.07 L381.97,170.05 L382.4,170.02 L382.83,170 L383.26,169.97 L383.69,169.93 L384.12,169.9 L384.55,169.86 L384.98,169.81 L385.41,169.76 L385.84,169.7 L386.27,169.63 L386.7,169.55 L387.13,169.46 L387.56,169.36 L387.99,169.24 L388.42,169.1 L388.85,168.94 L389.28,168.75 L389.71,168.54 L390.14,168.29 L390.57,168 L391,167.66 L391.43,167.28 L391.86,166.84 L392.29,166.35 L392.72,165.78 L393.15,165.14 L393.58,164.43 L394.01,163.63 L394.44,162.74 L394.87,161.75 L395.3,160.67 L395.73,159.48 L396.16,158.19 L396.59,156.8 L397.02,155.3 L397.45,153.7 L397.88,152 L398.31,150.21 L398.74,148.34 L399.17,146.38 L399.6,144.36 L400.03,142.28 L400.46,140.17 L400.89,138.03 L401.32,135.9 L401.75,133.78 L402.19,131.72 L402.62,129.75 L403.05,127.9 L403.48,126.21 L403.91,124.75 L404.34,123.55 L404.77,122.67 L405.2,122.15 L405.63,122.02 L406.06,122.27 L406.49,122.9 L406.92,123.89 L407.35,125.19 L407.78,126.74 L408.21,128.51 L408.64,130.44 L409.07,132.49 L409.5,134.62 L409.93,136.79 L410.36,138.99 L410.79,141.17 L411.22,143.33 L411.65,145.45 L412.08,147.51 L412.51,149.5 L412.94,151.41 L413.37,153.23 L413.8,154.95 L414.23,156.57 L414.66,158.09 L415.09,159.5 L415.52,160.81 L415.95,162.01 L416.38,163.1 L416.81,164.1 L417.24,165 L417.67,165.81 L418.1,166.53 L418.53,167.17 L418.96,167.74 L419.39,168.25 L419.82,168.69 L420.25,169.08 L420.68,169.41 L421.11,169.71 L421.54,169.96 L421.97,170.18 L422.4,170.37 L422.83,170.53 L423.26,170.67 L423.69,170.79 L424.13,170.89 L424.56,170.98 L424.99,171.06 L425.42,171.12 L425.85,171.18 L426.28,171.22 L426.71,171.26 L427.14,171.29 L427.57,171.32 L428,171.34 L428.43,171.35 L428.86,171.36 L429.29,171.37 L429.72,171.37 L430.15,171.37 L430.58,171.36 L431.01,171.35 L431.44,171.34 L431.87,171.32 L432.3,171.31 L432.73,171.28 L433.16,171.26 L433.59,171.24 L434.02,171.21 L434.45,171.18 L434.88,171.15 L435.31,171.12 L435.74,171.09 L436.17,171.07 L436.6,171.04 L437.03,171.01 L437.46,170.99 L437.89,170.97 L438.32,170.95 L438.75,170.94 L439.18,170.93 L439.61,170.92 L440.04,170.91 L440.47,170.92 L440.9,170.92 L441.33,170.93 L441.76,170.94 L442.19,170.96 L442.62,170.98 L443.05,171.01 L443.48,171.03 L443.91,171.06 L444.34,171.1 L444.77,171.13 L445.2,171.17 L445.64,171.2 L446.07,171.24 L446.5,171.28 L446.93,171.31 L447.36,171.35 L447.79,171.39 L448.22,171.42 L448.65,171.45 L449.08,171.48 L449.51,171.51 L449.94,171.53 L450.37,171.56 L450.8,171.58 L451.23,171.6 L451.66,171.61 L452.09,171.63 L452.52,171.64 L452.95,171.65 L453.38,171.65 L453.81,171.66 L454.24,171.66 L454.67,171.66 L455.1,171.66 L455.53,171.65 L455.96,171.65 L456.39,171.64 L456.82,171.63 L457.25,171.62 L457.68,171.61 L458.11,171.6 L458.54,171.59 L458.97,171.57 L459.4,171.56 L459.83,171.54 L460.26,171.52 L460.69,171.5 L461.12,171.48 L461.55,171.46 L461.98,171.44 L462.41,171.41 L462.84,171.38 L463.27,171.35 L463.7,171.32 L464.13,171.29 L464.56,171.25 L464.99,171.21 L465.42,171.17 L465.85,171.12 L466.28,171.06 L466.72,171 L467.15,170.93 L467.58,170.85 L468.01,170.77 L468.44,170.66 L468.87,170.55 L469.3,170.41 L469.73,170.26 L470.16,170.08 L470.59,169.87 L471.02,169.63 L471.45,169.36 L471.88,169.04 L472.31,168.67 L472.74,168.24 L473.17,167.75 L473.6,167.2 L474.03,166.56 L474.46,165.84 L474.89,165.03 L475.32,164.11 L475.75,163.08 L476.18,161.94 L476.61,160.67 L477.04,159.27 L477.47,157.74 L477.9,156.07 L478.33,154.25 L478.76,152.29 L479.19,150.19 L479.62,147.95 L480.05,145.58 L480.48,143.08 L480.91,140.46 L481.34,137.74 L481.77,134.93 L482.2,132.04 L482.63,129.1 L483.06,126.13 L483.49,123.16 L483.92,120.21 L484.35,117.34 L484.78,114.57 L485.21,111.96 L485.64,109.57 L486.07,107.47 L486.5,105.72 L486.93,104.39 L487.36,103.53 L487.79,103.19 L488.23,103.39 L488.66,104.11 L489.09,105.33 L489.52,107 L489.95,109.05 L490.38,111.42 L490.81,114.04 L491.24,116.84 L491.67,119.78 L492.1,122.8 L492.53,125.86 L492.96,128.93 L493.39,131.97 L493.82,134.98 L494.25,137.91 L494.68,140.76 L495.11,143.5 L495.54,146.13 L495.97,148.64 L496.4,151 L496.83,153.23 L497.26,155.32 L497.69,157.26 L498.12,159.05 L498.55,160.7 L498.98,162.21 L499.41,163.58 L499.84,164.82 L500.27,165.94 L500.7,166.94 L501.13,167.84 L501.56,168.63 L501.99,169.34 L502.42,169.96 L502.85,170.5 L503.28,170.98 L503.71,171.39 L504.14,171.75 L504.57,172.07 L505,172.34 L505.43,172.58 L505.86,172.79 L506.29,172.97 L506.72,173.12 L507.15,173.26 L507.58,173.38 L508.01,173.48 L508.44,173.58 L508.87,173.66 L509.3,173.73 L509.74,173.8 L510.17,173.85 L510.6,173.91 L511.03,173.96 L511.46,174 L511.89,174.04 L512.32,174.08 L512.75,174.12 L513.18,174.15 L513.61,174.18 L514.04,174.21 L514.47,174.24 L514.9,174.27 L515.33,174.29 L515.76,174.32 L516.19,174.34 L516.62,174.36 L517.05,174.38 L517.48,174.4 L517.91,174.42 L518.34,174.44 L518.77,174.46 L519.2,174.47 L519.63,174.49 L520.06,174.51 L520.49,174.52 L520.92,174.54 L521.35,174.55 L521.78,174.56 L522.21,174.57 L522.64,174.59 L523.07,174.6 L523.5,174.61 L523.93,174.62 L524.36,174.63 L524.79,174.64 L525.22,174.65 L525.65,174.66 L526.08,174.67 L526.51,174.68 L526.94,174.69 L527.37,174.7 L527.8,174.71 L528.23,174.71 L528.66,174.72 L529.09,174.73 L529.52,174.74 L529.95,174.74 L530.38,174.75 L530.81,174.76 L531.25,174.76 L531.68,174.77 L532.11,174.77 L532.54,174.78 L532.97,174.79 L533.4,174.79 L533.83,174.8 L534.26,174.8 L534.69,174.81 L535.12,174.81 L535.55,174.82 L535.98,174.82 L536.41,174.83 L536.84,174.83 L537.27,174.84 L537.7,174.84 L538.13,174.84 L538.56,174.85 L538.99,174.85 L539.42,174.86 L539.85,174.86 L540.28,174.86 L540.71,174.87 L541.14,174.87 L541.57,174.87 L542,174.88" fill="none" stroke="#111" stroke-width="1.7"/>
<path d="M326.4,170.74 L326.83,170.74 L327.26,170.74 L327.69,170.74 L328.12,170.74 L328.55,170.74 L328.98,170.74 L329.41,170.74 L329.84,170.74 L330.27,170.74 L330.7,170.74 L331.13,170.74 L331.56,170.73 L331.99,170.73 L332.42,170.73 L332.85,170.73 L333.28,170.73 L333.71,170.73 L334.14,170.73 L334.57,170.73 L335,170.73 L335.43,170.73 L335.86,170.73 L336.29,170.73 L336.72,170.72 L337.15,170.72 L337.59,170.72 L338.02,170.72 L338.45,170.72 L338.88,170.72 L339.31,170.72 L339.74,170.72 L340.17,170.72 L340.6,170.71 L341.03,170.71 L341.46,170.71 L341.89,170.71 L342.32,170.71 L342.75,170.71 L343.18,170.71 L343.61,170.71 L344.04,170.7 L344.47,170.7 L344.9,170.7 L345.33,170.7 L345.76,170.7 L346.19,170.7 L346.62,170.7 L347.05,170.69 L347.48,170.69 L347.91,170.69 L348.34,170.69 L348.77,170.69 L349.2,170.69 L349.63,170.69 L350.06,170.68 L350.49,170.68 L350.92,170.68 L351.35,170.68 L351.78,170.68 L352.21,170.67 L352.64,170.67 L353.07,170.67 L353.5,170.67 L353.93,170.67 L354.36,170.66 L354.79,170.66 L355.22,170.66 L355.65,170.66 L356.08,170.65 L356.51,170.65 L356.94,170.65 L357.37,170.65 L357.8,170.64 L358.23,170.64 L358.66,170.64 L359.1,170.63 L359.53,170.63 L359.96,170.63 L360.39,170.62 L360.82,170.62 L361.25,170.62 L361.68,170.61 L362.11,170.61 L362.54,170.61 L362.97,170.6 L363.4,170.6 L363.83,170.59 L364.26,170.59 L364.69,170.59 L365.12,170.58 L365.55,170.58 L365.98,170.57 L366.41,170.57 L366.84,170.56 L367.27,170.56 L367.7,170.55 L368.13,170.54 L368.56,170.54 L368.99,170.53 L369.42,170.53 L369.85,170.52 L370.28,170.51 L370.71,170.51 L371.14,170.5 L371.57,170.49 L372,170.48 L372.43,170.48 L372.86,170.47 L373.29,170.46 L373.72,170.45 L374.15,170.44 L374.58,170.43 L375.01,170.42 L375.44,170.41 L375.87,170.4 L376.3,170.39 L376.73,170.38 L377.16,170.36 L377.59,170.35 L378.02,170.34 L378.45,170.32 L378.88,170.31 L379.31,170.29 L379.74,170.27 L380.17,170.26 L380.61,170.24 L381.04,170.22 L381.47,170.2 L381.9,170.18 L382.33,170.15 L382.76,170.13 L383.19,170.1 L383.62,170.07 L384.05,170.04 L384.48,170 L384.91,169.96 L385.34,169.92 L385.77,169.87 L386.2,169.81 L386.63,169.74 L387.06,169.67 L387.49,169.58 L387.92,169.48 L388.35,169.36 L388.78,169.21 L389.21,169.05 L389.64,168.86 L390.07,168.63 L390.5,168.37 L390.93,168.07 L391.36,167.71 L391.79,167.3 L392.22,166.83 L392.65,166.29 L393.08,165.67 L393.51,164.96 L393.94,164.17 L394.37,163.28 L394.8,162.28 L395.23,161.18 L395.66,159.96 L396.09,158.63 L396.52,157.17 L396.95,155.61 L397.38,153.92 L397.81,152.13 L398.24,150.23 L398.67,148.23 L399.1,146.15 L399.53,143.99 L399.96,141.78 L400.39,139.53 L400.82,137.27 L401.25,135.01 L401.69,132.79 L402.12,130.65 L402.55,128.63 L402.98,126.78 L403.41,125.16 L403.84,123.83 L404.27,122.85 L404.7,122.26 L405.13,122.1 L405.56,122.38 L405.99,123.09 L406.42,124.19 L406.85,125.63 L407.28,127.34 L407.71,129.28 L408.14,131.38 L408.57,133.6 L409,135.88 L409.43,138.2 L409.86,140.52 L410.29,142.82 L410.72,145.08 L411.15,147.28 L411.58,149.4 L412.01,151.43 L412.44,153.36 L412.87,155.18 L413.3,156.89 L413.73,158.48 L414.16,159.95 L414.59,161.3 L415.02,162.53 L415.45,163.65 L415.88,164.66 L416.31,165.57 L416.74,166.37 L417.17,167.09 L417.6,167.71 L418.03,168.27 L418.46,168.75 L418.89,169.17 L419.32,169.53 L419.75,169.84 L420.18,170.11 L420.61,170.35 L421.04,170.55 L421.47,170.72 L421.9,170.86 L422.33,170.99 L422.76,171.1 L423.19,171.19 L423.63,171.27 L424.06,171.35 L424.49,171.41 L424.92,171.46 L425.35,171.51 L425.78,171.56 L426.21,171.6 L426.64,171.63 L427.07,171.67 L427.5,171.7 L427.93,171.72 L428.36,171.75 L428.79,171.77 L429.22,171.8 L429.65,171.82 L430.08,171.84 L430.51,171.86 L430.94,171.87 L431.37,171.89 L431.8,171.91 L432.23,171.92 L432.66,171.94 L433.09,171.95 L433.52,171.97 L433.95,171.98 L434.38,171.99 L434.81,172 L435.24,172.01 L435.67,172.02 L436.1,172.03 L436.53,172.04 L436.96,172.05 L437.39,172.06 L437.82,172.07 L438.25,172.08 L438.68,172.09 L439.11,172.1 L439.54,172.1 L439.97,172.11 L440.4,172.12 L440.83,172.12 L441.26,172.13 L441.69,172.14 L442.12,172.14 L442.55,172.15 L442.98,172.16 L443.41,172.16 L443.84,172.17 L444.27,172.17 L444.7,172.18 L445.14,172.18 L445.57,172.19 L446,172.19 L446.43,172.19 L446.86,172.2 L447.29,172.2 L447.72,172.21 L448.15,172.21 L448.58,172.21 L449.01,172.22 L449.44,172.22 L449.87,172.23 L450.3,172.23 L450.73,172.23 L451.16,172.24 L451.59,172.24 L452.02,172.24 L452.45,172.25 L452.88,172.25 L453.31,172.25 L453.74,172.25 L454.17,172.26 L454.6,172.26 L455.03,172.26 L455.46,172.27 L455.89,172.27 L456.32,172.27 L456.75,172.27 L457.18,172.28 L457.61,172.28 L458.04,172.28 L458.47,172.28 L458.9,172.29 L459.33,172.29 L459.76,172.29 L460.19,172.3 L460.62,172.3 L461.05,172.3 L461.48,172.3 L461.91,172.31 L462.34,172.31 L462.77,172.31 L463.2,172.32 L463.63,172.32 L464.06,172.32 L464.49,172.33 L464.92,172.33 L465.35,172.33 L465.78,172.34 L466.22,172.34 L466.65,172.35 L467.08,172.35 L467.51,172.36 L467.94,172.36 L468.37,172.37 L468.8,172.38 L469.23,172.38 L469.66,172.39 L470.09,172.4 L470.52,172.41 L470.95,172.42 L471.38,172.42 L471.81,172.43 L472.24,172.45 L472.67,172.46 L473.1,172.47 L473.53,172.48 L473.96,172.5 L474.39,172.51 L474.82,172.53 L475.25,172.55 L475.68,172.57 L476.11,172.59 L476.54,172.61 L476.97,172.63 L477.4,172.65 L477.83,172.68 L478.26,172.71 L478.69,172.74 L479.12,172.77 L479.55,172.8 L479.98,172.84 L480.41,172.87 L480.84,172.91 L481.27,172.95 L481.7,172.99 L482.13,173.04 L482.56,173.08 L482.99,173.13 L483.42,173.18 L483.85,173.23 L484.28,173.29 L484.71,173.34 L485.14,173.4 L485.57,173.45 L486,173.51 L486.43,173.57 L486.86,173.62 L487.29,173.68 L487.73,173.74 L488.16,173.8 L488.59,173.86 L489.02,173.92 L489.45,173.97 L489.88,174.03 L490.31,174.08 L490.74,174.14 L491.17,174.19 L491.6,174.24 L492.03,174.29 L492.46,174.33 L492.89,174.38 L493.32,174.42 L493.75,174.46 L494.18,174.5 L494.61,174.54 L495.04,174.57 L495.47,174.61 L495.9,174.64 L496.33,174.67 L496.76,174.7 L497.19,174.72 L497.62,174.75 L498.05,174.77 L498.48,174.79 L498.91,174.81 L499.34,174.83 L499.77,174.85 L500.2,174.87 L500.63,174.88 L501.06,174.9 L501.49,174.91 L501.92,174.92 L502.35,174.93 L502.78,174.94 L503.21,174.95 L503.64,174.96 L504.07,174.97 L504.5,174.98 L504.93,174.99 L505.36,174.99 L505.79,175 L506.22,175 L506.65,175.01 L507.08,175.01 L507.51,175.02 L507.94,175.02 L508.37,175.03 L508.8,175.03 L509.24,175.03 L509.67,175.04 L510.1,175.04 L510.53,175.04 L510.96,175.04 L511.39,175.05 L511.82,175.05 L512.25,175.05 L512.68,175.05 L513.11,175.05 L513.54,175.06 L513.97,175.06 L514.4,175.06 L514.83,175.06 L515.26,175.06 L515.69,175.06 L516.12,175.06 L516.55,175.06 L516.98,175.06 L517.41,175.07 L517.84,175.07 L518.27,175.07 L518.7,175.07 L519.13,175.07 L519.56,175.07 L519.99,175.07 L520.42,175.07 L520.85,175.07 L521.28,175.07 L521.71,175.07 L522.14,175.07 L522.57,175.07 L523,175.07 L523.43,175.07 L523.86,175.07 L524.29,175.07 L524.72,175.07 L525.15,175.07 L525.58,175.07 L526.01,175.07 L526.44,175.07 L526.87,175.07 L527.3,175.08 L527.73,175.08 L528.16,175.08 L528.59,175.08 L529.02,175.08 L529.45,175.08 L529.88,175.08 L530.31,175.08 L530.75,175.08 L531.18,175.08 L531.61,175.08 L532.04,175.08 L532.47,175.08 L532.9,175.08 L533.33,175.08 L533.76,175.08 L534.19,175.08 L534.62,175.08 L535.05,175.08 L535.48,175.08 L535.91,175.08 L536.34,175.08 L536.77,175.08 L537.2,175.08 L537.63,175.08 L538.06,175.08 L538.49,175.08 L538.92,175.08 L539.35,175.08 L539.78,175.08 L540.21,175.08 L540.64,175.08 L541.07,175.08 L541.5,175.08" fill="none" stroke="#2e9a4e" stroke-width="1.5"/>
<path d="M464.06,171.49 L464.49,171.45 L464.92,171.42 L465.35,171.38 L465.78,171.33 L466.22,171.28 L466.65,171.23 L467.08,171.17 L467.51,171.1 L467.94,171.03 L468.37,170.94 L468.8,170.84 L469.23,170.73 L469.66,170.59 L470.09,170.44 L470.52,170.26 L470.95,170.05 L471.38,169.8 L471.81,169.52 L472.24,169.19 L472.67,168.8 L473.1,168.35 L473.53,167.83 L473.96,167.23 L474.39,166.55 L474.82,165.76 L475.25,164.87 L475.68,163.86 L476.11,162.72 L476.54,161.45 L476.97,160.04 L477.4,158.47 L477.83,156.75 L478.26,154.87 L478.69,152.83 L479.12,150.63 L479.55,148.28 L479.98,145.77 L480.41,143.12 L480.84,140.34 L481.27,137.44 L481.7,134.44 L482.13,131.37 L482.56,128.24 L482.99,125.08 L483.42,121.94 L483.85,118.84 L484.28,115.84 L484.71,113 L485.14,110.38 L485.57,108.05 L486,106.1 L486.43,104.61 L486.86,103.64 L487.29,103.25 L487.73,103.47 L488.16,104.27 L488.59,105.63 L489.02,107.48 L489.45,109.74 L489.88,112.34 L490.31,115.19 L490.74,118.23 L491.17,121.38 L491.6,124.61 L492.03,127.86 L492.46,131.1 L492.89,134.3 L493.32,137.42 L493.75,140.45 L494.18,143.37 L494.61,146.16 L495.04,148.81 L495.47,151.31 L495.9,153.64 L496.33,155.82 L496.76,157.83 L497.19,159.68 L497.62,161.37 L498.05,162.9 L498.48,164.29 L498.91,165.53 L499.34,166.64 L499.77,167.62 L500.2,168.49 L500.63,169.25 L501.06,169.92 L501.49,170.5 L501.92,171.01 L502.35,171.45 L502.78,171.82 L503.21,172.15 L503.64,172.43 L504.07,172.68 L504.5,172.88 L504.93,173.06 L505.36,173.22 L505.79,173.35 L506.22,173.47 L506.65,173.57 L507.08,173.66 L507.51,173.74 L507.94,173.81 L508.37,173.88 L508.8,173.94 L509.24,173.99 L509.67,174.04 L510.1,174.08 L510.53,174.12 L510.96,174.16 L511.39,174.19 L511.82,174.22 L512.25,174.26 L512.68,174.28" fill="none" stroke="#1f5fe0" stroke-width="1.6"/>
<line x1="405.5" y1="20" x2="405.5" y2="165.8" stroke="#ff1a1a" stroke-width="1.8"/>
<line x1="487.2" y1="15.5" x2="487.2" y2="160.8" stroke="#ff1a1a" stroke-width="1.8"/>
<rect x="326.4" y="11.3" width="212.6" height="170.3" fill="none" stroke="#111" stroke-width="1.5"/>
<line x1="538.5" y1="181.6" x2="538.5" y2="184.8" stroke="#111" stroke-width="1.2"/>
<text x="538.5" y="194.6" font-size="9.5" text-anchor="middle" fill="#383838"  stroke="#383838" stroke-width="0.25">364</text>
<line x1="525.25" y1="181.6" x2="525.25" y2="183.2" stroke="#111" stroke-width="1.2"/>
<line x1="512" y1="181.6" x2="512" y2="184.8" stroke="#111" stroke-width="1.2"/>
<text x="512" y="194.6" font-size="9.5" text-anchor="middle" fill="#383838"  stroke="#383838" stroke-width="0.25">366</text>
<line x1="498.75" y1="181.6" x2="498.75" y2="183.2" stroke="#111" stroke-width="1.2"/>
<line x1="485.5" y1="181.6" x2="485.5" y2="184.8" stroke="#111" stroke-width="1.2"/>
<text x="485.5" y="194.6" font-size="9.5" text-anchor="middle" fill="#383838"  stroke="#383838" stroke-width="0.25">368</text>
<line x1="472.25" y1="181.6" x2="472.25" y2="183.2" stroke="#111" stroke-width="1.2"/>
<line x1="459" y1="181.6" x2="459" y2="184.8" stroke="#111" stroke-width="1.2"/>
<text x="459" y="194.6" font-size="9.5" text-anchor="middle" fill="#383838"  stroke="#383838" stroke-width="0.25">370</text>
<line x1="445.75" y1="181.6" x2="445.75" y2="183.2" stroke="#111" stroke-width="1.2"/>
<line x1="432.5" y1="181.6" x2="432.5" y2="184.8" stroke="#111" stroke-width="1.2"/>
<text x="432.5" y="194.6" font-size="9.5" text-anchor="middle" fill="#383838"  stroke="#383838" stroke-width="0.25">372</text>
<line x1="419.25" y1="181.6" x2="419.25" y2="183.2" stroke="#111" stroke-width="1.2"/>
<line x1="406" y1="181.6" x2="406" y2="184.8" stroke="#111" stroke-width="1.2"/>
<text x="406" y="194.6" font-size="9.5" text-anchor="middle" fill="#383838"  stroke="#383838" stroke-width="0.25">374</text>
<line x1="392.75" y1="181.6" x2="392.75" y2="183.2" stroke="#111" stroke-width="1.2"/>
<line x1="379.5" y1="181.6" x2="379.5" y2="184.8" stroke="#111" stroke-width="1.2"/>
<text x="379.5" y="194.6" font-size="9.5" text-anchor="middle" fill="#383838"  stroke="#383838" stroke-width="0.25">376</text>
<line x1="366.25" y1="181.6" x2="366.25" y2="183.2" stroke="#111" stroke-width="1.2"/>
<line x1="353" y1="181.6" x2="353" y2="184.8" stroke="#111" stroke-width="1.2"/>
<text x="353" y="194.6" font-size="9.5" text-anchor="middle" fill="#383838"  stroke="#383838" stroke-width="0.25">378</text>
<line x1="339.75" y1="181.6" x2="339.75" y2="183.2" stroke="#111" stroke-width="1.2"/>
<line x1="326.5" y1="181.6" x2="326.5" y2="184.8" stroke="#111" stroke-width="1.2"/>
<text x="326.5" y="194.6" font-size="9.5" text-anchor="middle" fill="#383838"  stroke="#383838" stroke-width="0.25">380</text>
<text x="432.9" y="211.7" font-size="12.1" text-anchor="middle" fill="#222"  stroke="#222" stroke-width="0.12">Binding energy (eV)</text>
<text x="-91.2" y="311.9" font-size="13.6" text-anchor="middle" fill="#222" transform="rotate(-90)" stroke="#222" stroke-width="0.12">Intensity (a.u.)</text>
<text x="290.2" y="22.3" font-size="15.2" text-anchor="start" fill="#222"  stroke="#222" stroke-width="0.12">(b)</text>
<text x="332.8" y="23.3" font-size="9.2" text-anchor="start" fill="#383838"  stroke="#383838" stroke-width="0.25">Ag</text>
<text x="332.6" y="81.2" font-size="9.2" text-anchor="start" fill="#383838"  stroke="#383838" stroke-width="0.25">CP-Ag</text>
<text x="334.2" y="167" font-size="9.2" text-anchor="start" fill="#383838"  stroke="#383838" stroke-width="0.25">Ag NPs</text>
<text x="411.8" y="40.9" font-size="9.2" text-anchor="start" fill="#383838"  stroke="#383838" stroke-width="0.25">374.00</text>
<text x="409.9" y="125.5" font-size="9.2" text-anchor="start" fill="#383838"  stroke="#383838" stroke-width="0.25">374.10</text>
<text x="496.9" y="26.4" font-size="9.2" text-anchor="start" fill="#383838"  stroke="#383838" stroke-width="0.25">367.96</text>
<text x="500.3" y="110.2" font-size="9.2" text-anchor="start" fill="#383838"  stroke="#383838" stroke-width="0.25">368.10</text>
<text x="470" y="36.4" font-size="9.2" text-anchor="start" fill="#383838"  stroke="#383838" stroke-width="0.25">Ag</text>
<text x="480.8" y="33.4" font-size="6.5" text-anchor="start" fill="#383838"  stroke="#383838" stroke-width="0.25">0</text>
<clipPath id="clipc"><rect x="48.0" y="224.2" width="212.9" height="171.4"/></clipPath>
<g clip-path="url(#clipc)">
<line x1="92.4" y1="245.5" x2="92.4" y2="370.5" stroke="#555" stroke-width="0.95" stroke-dasharray="2.3 1.9"/>
<line x1="118.3" y1="245" x2="118.3" y2="367" stroke="#555" stroke-width="0.95" stroke-dasharray="2.3 1.9"/>
<line x1="131.9" y1="245" x2="131.9" y2="370" stroke="#555" stroke-width="0.95" stroke-dasharray="2.3 1.9"/>
<line x1="173.3" y1="245" x2="173.3" y2="369.5" stroke="#555" stroke-width="0.95" stroke-dasharray="2.3 1.9"/>
<line x1="187.8" y1="245" x2="187.8" y2="368.5" stroke="#555" stroke-width="0.95" stroke-dasharray="2.3 1.9"/>
<line x1="223.8" y1="244" x2="223.8" y2="366" stroke="#555" stroke-width="0.95" stroke-dasharray="2.3 1.9"/>
<path d="M57.6,397C57.75,396.8 57.97,401.67 58.5,395.8C59.03,389.93 59.63,371.33 60.8,361.8C61.97,352.27 64.08,346.32 65.5,338.6C66.92,330.88 67.77,321.93 69.3,315.5C70.83,309.07 73.08,304.17 74.7,300C76.32,295.83 77.28,293.75 79,290.5C80.72,287.25 82.73,283.83 85,280.5C87.27,277.17 90.1,272.25 92.6,270.5C95.1,268.75 95.72,270.15 100,270C104.28,269.85 112.97,269.67 118.3,269.6C123.63,269.53 126.72,269.57 132,269.6C137.28,269.63 143.02,269.77 150,269.8C156.98,269.83 168.73,270.1 173.9,269.8C179.07,269.5 178.65,268.6 181,268C183.35,267.4 184,266.55 188,266.2C192,265.85 199.03,265.95 205,265.9C210.97,265.85 219.8,266.13 223.8,265.9C227.8,265.67 227.3,265.2 229,264.5C230.7,263.8 232.33,263.45 234,261.7C235.67,259.95 237.43,257.55 239,254C240.57,250.45 242.15,246.07 243.4,240.4C244.65,234.73 245.98,223.4 246.5,220" fill="none" stroke="#3a3a3a" stroke-width="1.25"/>
<path d="M61.2,398C61.27,397.63 60.88,400.53 61.6,395.8C62.32,391.07 64.08,377.07 65.5,369.6C66.92,362.13 68.3,356.42 70.1,351C71.9,345.58 73.98,341.48 76.3,337.1C78.62,332.72 81.38,327.67 84,324.7C86.62,321.73 89.17,319.68 92,319.3C94.83,318.92 97.83,321.12 101,322.4C104.17,323.68 108.3,326.73 111,327C113.7,327.27 115.27,325.53 117.2,324C119.13,322.47 120.47,319.73 122.6,317.8C124.73,315.87 127.1,313.87 130,312.4C132.9,310.93 135.33,310.47 140,309C144.67,307.53 152.4,305.3 158,303.6C163.6,301.9 169.18,300.05 173.6,298.8C178.02,297.55 182,296.65 184.5,296.1C187,295.55 187.35,295.42 188.6,295.5C189.85,295.58 190.77,296.02 192,296.6C193.23,297.18 194.1,297.82 196,299C197.9,300.18 200.67,302.45 203.4,303.7C206.13,304.95 210.08,305.57 212.4,306.5C214.72,307.43 215.4,307.85 217.3,309.3C219.2,310.75 221.85,313.48 223.8,315.2C225.75,316.92 227.22,318.52 229,319.6C230.78,320.68 232.63,322.17 234.5,321.7C236.37,321.23 238.7,319.67 240.2,316.8C241.7,313.93 242.6,310.63 243.5,304.5C244.4,298.37 245.02,289.08 245.6,280C246.18,270.92 246.5,260 247,250C247.5,240 248.33,225 248.6,220" fill="none" stroke="#3a3a3a" stroke-width="1.25"/>
<path d="M92.8,270.2 L93.44,270.12 L94.08,269.99 L94.71,269.83 L95.35,269.6 L95.99,269.32 L96.62,268.98 L97.26,268.57 L97.9,268.13 L98.54,267.65 L99.17,267.19 L99.81,266.76 L100.45,266.4 L101.09,266.14 L101.72,266.01 L102.36,266.01 L103,266.05 L103.64,266.15 L104.27,266.28 L104.91,266.44 L105.55,266.64 L106.19,266.87 L106.83,267.11 L107.46,267.37 L108.1,267.64 L108.74,267.91 L109.38,268.17 L110.01,268.43 L110.65,268.67 L111.29,268.9 L111.92,269.11 L112.56,269.3 L113.2,269.47 L113.84,269.62 L114.47,269.75 L115.11,269.86 L115.75,269.96 L116.39,270.04 L117.03,270.1 L117.66,270.16 L118.3,270.2 L118.3,270.2 L92.8,270.2" fill="none" stroke="#ff1a1a" stroke-width="1.5" stroke-linejoin="round"/>
<path d="M131.6,269.8 L132.66,269.69 L133.72,269.55 L134.77,269.37 L135.83,269.14 L136.89,268.86 L137.94,268.53 L139,268.14 L140.06,267.69 L141.12,267.18 L142.18,266.61 L143.23,266 L144.29,265.37 L145.35,264.71 L146.41,264.07 L147.46,263.45 L148.52,262.88 L149.58,262.38 L150.63,261.98 L151.69,261.7 L152.75,261.53 L153.81,261.51 L154.87,261.63 L155.92,261.9 L156.98,262.3 L158.04,262.82 L159.09,263.43 L160.15,264.09 L161.21,264.79 L162.27,265.49 L163.33,266.17 L164.38,266.81 L165.44,267.39 L166.5,267.91 L167.56,268.37 L168.61,268.75 L169.67,269.06 L170.73,269.32 L171.79,269.52 L172.84,269.68 L173.9,269.8 L173.9,269.8 L131.6,269.8" fill="none" stroke="#1515b5" stroke-width="1.5" stroke-linejoin="round"/>
<path d="M187.9,265.9 L188.8,265.85 L189.69,265.79 L190.59,265.72 L191.49,265.62 L192.39,265.51 L193.28,265.37 L194.18,265.21 L195.08,265.02 L195.98,264.81 L196.88,264.58 L197.77,264.32 L198.67,264.05 L199.57,263.77 L200.47,263.49 L201.36,263.21 L202.26,262.94 L203.16,262.7 L204.06,262.49 L204.95,262.32 L205.85,262.19 L206.75,262.12 L207.65,262.1 L208.54,262.15 L209.44,262.28 L210.34,262.48 L211.24,262.74 L212.13,263.04 L213.03,263.37 L213.93,263.71 L214.83,264.05 L215.72,264.37 L216.62,264.67 L217.52,264.94 L218.42,265.17 L219.31,265.37 L220.21,265.53 L221.11,265.66 L222,265.76 L222.9,265.84 L223.8,265.9 L223.8,265.9 L187.9,265.9" fill="none" stroke="#1a8a1a" stroke-width="1.5" stroke-linejoin="round"/>
</g>
<rect x="48" y="224.2" width="212.9" height="171.4" fill="none" stroke="#111" stroke-width="1.5"/>
<line x1="46.3" y1="390.56" x2="48" y2="390.56" stroke="#111" stroke-width="1.2"/>
<line x1="44.8" y1="376.28" x2="48" y2="376.28" stroke="#111" stroke-width="1.2"/>
<text x="42.6" y="379.58" font-size="9.4" text-anchor="end" fill="#383838"  stroke="#383838" stroke-width="0.25">−0.9</text>
<line x1="46.3" y1="362" x2="48" y2="362" stroke="#111" stroke-width="1.2"/>
<line x1="44.8" y1="347.72" x2="48" y2="347.72" stroke="#111" stroke-width="1.2"/>
<text x="42.6" y="351.02" font-size="9.4" text-anchor="end" fill="#383838"  stroke="#383838" stroke-width="0.25">−0.6</text>
<line x1="46.3" y1="333.44" x2="48" y2="333.44" stroke="#111" stroke-width="1.2"/>
<line x1="44.8" y1="319.16" x2="48" y2="319.16" stroke="#111" stroke-width="1.2"/>
<text x="42.6" y="322.46" font-size="9.4" text-anchor="end" fill="#383838"  stroke="#383838" stroke-width="0.25">−0.3</text>
<line x1="46.3" y1="304.88" x2="48" y2="304.88" stroke="#111" stroke-width="1.2"/>
<line x1="44.8" y1="290.6" x2="48" y2="290.6" stroke="#111" stroke-width="1.2"/>
<text x="42.6" y="293.9" font-size="9.4" text-anchor="end" fill="#383838"  stroke="#383838" stroke-width="0.25">0.0</text>
<line x1="46.3" y1="276.32" x2="48" y2="276.32" stroke="#111" stroke-width="1.2"/>
<line x1="44.8" y1="262.04" x2="48" y2="262.04" stroke="#111" stroke-width="1.2"/>
<text x="42.6" y="265.34" font-size="9.4" text-anchor="end" fill="#383838"  stroke="#383838" stroke-width="0.25">0.3</text>
<line x1="46.3" y1="247.76" x2="48" y2="247.76" stroke="#111" stroke-width="1.2"/>
<line x1="44.8" y1="233.48" x2="48" y2="233.48" stroke="#111" stroke-width="1.2"/>
<text x="42.6" y="236.78" font-size="9.4" text-anchor="end" fill="#383838"  stroke="#383838" stroke-width="0.25">0.6</text>
<line x1="50.1" y1="395.6" x2="50.1" y2="397.3" stroke="#111" stroke-width="1.2"/>
<line x1="61.8" y1="395.6" x2="61.8" y2="398.8" stroke="#111" stroke-width="1.2"/>
<text x="61.8" y="408.6" font-size="9.4" text-anchor="middle" fill="#383838"  stroke="#383838" stroke-width="0.25">−1.4</text>
<line x1="73.5" y1="395.6" x2="73.5" y2="397.3" stroke="#111" stroke-width="1.2"/>
<line x1="85.2" y1="395.6" x2="85.2" y2="398.8" stroke="#111" stroke-width="1.2"/>
<text x="85.2" y="408.6" font-size="9.4" text-anchor="middle" fill="#383838"  stroke="#383838" stroke-width="0.25">−1.2</text>
<line x1="96.9" y1="395.6" x2="96.9" y2="397.3" stroke="#111" stroke-width="1.2"/>
<line x1="108.6" y1="395.6" x2="108.6" y2="398.8" stroke="#111" stroke-width="1.2"/>
<text x="108.6" y="408.6" font-size="9.4" text-anchor="middle" fill="#383838"  stroke="#383838" stroke-width="0.25">−1.0</text>
<line x1="120.3" y1="395.6" x2="120.3" y2="397.3" stroke="#111" stroke-width="1.2"/>
<line x1="132" y1="395.6" x2="132" y2="398.8" stroke="#111" stroke-width="1.2"/>
<text x="132" y="408.6" font-size="9.4" text-anchor="middle" fill="#383838"  stroke="#383838" stroke-width="0.25">−0.8</text>
<line x1="143.7" y1="395.6" x2="143.7" y2="397.3" stroke="#111" stroke-width="1.2"/>
<line x1="155.4" y1="395.6" x2="155.4" y2="398.8" stroke="#111" stroke-width="1.2"/>
<text x="155.4" y="408.6" font-size="9.4" text-anchor="middle" fill="#383838"  stroke="#383838" stroke-width="0.25">−0.6</text>
<line x1="167.1" y1="395.6" x2="167.1" y2="397.3" stroke="#111" stroke-width="1.2"/>
<line x1="178.8" y1="395.6" x2="178.8" y2="398.8" stroke="#111" stroke-width="1.2"/>
<text x="178.8" y="408.6" font-size="9.4" text-anchor="middle" fill="#383838"  stroke="#383838" stroke-width="0.25">−0.4</text>
<line x1="190.5" y1="395.6" x2="190.5" y2="397.3" stroke="#111" stroke-width="1.2"/>
<line x1="202.2" y1="395.6" x2="202.2" y2="398.8" stroke="#111" stroke-width="1.2"/>
<text x="202.2" y="408.6" font-size="9.4" text-anchor="middle" fill="#383838"  stroke="#383838" stroke-width="0.25">−0.2</text>
<line x1="213.9" y1="395.6" x2="213.9" y2="397.3" stroke="#111" stroke-width="1.2"/>
<line x1="225.6" y1="395.6" x2="225.6" y2="398.8" stroke="#111" stroke-width="1.2"/>
<text x="225.6" y="408.6" font-size="9.4" text-anchor="middle" fill="#383838"  stroke="#383838" stroke-width="0.25">0.0</text>
<line x1="237.3" y1="395.6" x2="237.3" y2="397.3" stroke="#111" stroke-width="1.2"/>
<line x1="249" y1="395.6" x2="249" y2="398.8" stroke="#111" stroke-width="1.2"/>
<text x="249" y="408.6" font-size="9.4" text-anchor="middle" fill="#383838"  stroke="#383838" stroke-width="0.25">0.2</text>
<line x1="260.7" y1="395.6" x2="260.7" y2="397.3" stroke="#111" stroke-width="1.2"/>
<text x="10.8" y="235" font-size="14.6" text-anchor="start" fill="#222" stroke="#222" stroke-width="0.55">(c)</text>
<text x="105.8" y="242.3" font-size="9.6" text-anchor="middle" fill="#383838"  stroke="#383838" stroke-width="0.25">(110)</text>
<text x="151" y="240.6" font-size="9.6" text-anchor="middle" fill="#383838"  stroke="#383838" stroke-width="0.25">(100)</text>
<text x="206.3" y="240.8" font-size="9.6" text-anchor="middle" fill="#383838"  stroke="#383838" stroke-width="0.25">(111)</text>
<text x="253.3" y="385.3" font-size="9.3" text-anchor="end" fill="#383838"  stroke="#383838" stroke-width="0.25">AgNP</text>
<text x="153.9" y="423.2" font-size="13.0" text-anchor="middle" fill="#222"  stroke="#222" stroke-width="0.12">E (V vs.RHE)</text>
<text transform="translate(18.9,302.8) rotate(-90)" font-size="13.5" text-anchor="middle" fill="#222" stroke="#222" stroke-width="0.12"><tspan font-style="italic">j</tspan> (mA cm<tspan font-size="9.2" dy="-5.4">−2</tspan><tspan dy="5.4">)</tspan></text>
<clipPath id="clipd"><rect x="326.0" y="223.6" width="212.2" height="171.6"/></clipPath>
<g clip-path="url(#clipd)">
<line x1="368.2" y1="257.6" x2="368.2" y2="382.5" stroke="#555" stroke-width="0.95" stroke-dasharray="2.3 1.9"/>
<line x1="399.1" y1="257.3" x2="399.1" y2="382.5" stroke="#555" stroke-width="0.95" stroke-dasharray="2.3 1.9"/>
<line x1="423.6" y1="250.9" x2="423.6" y2="375.3" stroke="#555" stroke-width="0.95" stroke-dasharray="2.3 1.9"/>
<line x1="449.3" y1="250" x2="449.3" y2="367.5" stroke="#555" stroke-width="0.95" stroke-dasharray="2.3 1.9"/>
<line x1="463.2" y1="243" x2="463.2" y2="366.5" stroke="#555" stroke-width="0.95" stroke-dasharray="2.3 1.9"/>
<line x1="502.3" y1="241" x2="502.3" y2="364.8" stroke="#555" stroke-width="0.95" stroke-dasharray="2.3 1.9"/>
<path d="M337,398C337.08,397.5 336.88,399.33 337.5,395C338.12,390.67 339.65,379.17 340.7,372C341.75,364.83 342.7,358.5 343.8,352C344.9,345.5 345.6,339.33 347.3,333C349,326.67 351.72,319.8 354,314C356.28,308.2 358.63,303.35 361,298.2C363.37,293.05 365.03,285.62 368.2,283.1C371.37,280.58 374.85,283.1 380,283.1C385.15,283.1 394.93,283.32 399.1,283.1C403.27,282.88 402.85,282.68 405,281.8C407.15,280.92 409.83,279.43 412,277.8C414.17,276.17 416.07,274 418,272C419.93,270 420.6,266.83 423.6,265.8C426.6,264.77 431.45,265.8 436,265.8C440.55,265.8 447.23,266.13 450.9,265.8C454.57,265.47 455.75,264.33 458,263.8C460.25,263.27 461.73,263.32 464.4,262.6C467.07,261.88 470.73,260.6 474,259.5C477.27,258.4 480.67,256.88 484,256C487.33,255.12 491.33,254.85 494,254.2C496.67,253.55 498.43,252.73 500,252.1C501.57,251.47 502.4,251.25 503.4,250.4C504.4,249.55 505.15,248.57 506,247C506.85,245.43 507.67,243.33 508.5,241C509.33,238.67 510.02,235.92 511,233C511.98,230.08 513.6,225.83 514.4,223.5C515.2,221.17 515.57,219.75 515.8,219" fill="none" stroke="#3a3a3a" stroke-width="1.25"/>
<path d="M345.3,398C345.37,397.5 345.18,397.5 345.7,395C346.22,392.5 347.43,386.83 348.4,383C349.37,379.17 350.4,375.33 351.5,372C352.6,368.67 352.98,366.33 355,363C357.02,359.67 360.7,354.67 363.6,352C366.5,349.33 369.67,347.33 372.4,347C375.13,346.67 377.9,348.5 380,350C382.1,351.5 383.55,354.58 385,356C386.45,357.42 387.03,359.28 388.7,358.5C390.37,357.72 392.28,354.88 395,351.3C397.72,347.72 402.17,340.55 405,337C407.83,333.45 409.5,332 412,330C414.5,328 417,326.92 420,325C423,323.08 426.67,320.08 430,318.5C433.33,316.92 436.7,316.53 440,315.5C443.3,314.47 447.07,312.65 449.8,312.3C452.53,311.95 454.35,312.9 456.4,313.4C458.45,313.9 460.33,315.4 462.1,315.3C463.87,315.2 465.23,313.38 467,312.8C468.77,312.22 470.65,311.88 472.7,311.8C474.75,311.72 476.83,311.68 479.3,312.3C481.77,312.92 485.05,314.13 487.5,315.5C489.95,316.87 492.1,318.45 494,320.5C495.9,322.55 497.4,324.4 498.9,327.8C500.4,331.2 501.63,336.53 503,340.9C504.37,345.27 505.93,350.73 507.1,354C508.27,357.27 509.18,359 510,360.5C510.82,362 511.28,362.92 512,363C512.72,363.08 513.62,362.23 514.3,361C514.98,359.77 515.5,359.1 516.1,355.6C516.7,352.1 517.33,346.53 517.9,340C518.47,333.47 518.93,326.07 519.5,316.4C520.07,306.73 520.73,292.9 521.3,282C521.87,271.1 522.4,260.75 522.9,251C523.4,241.25 524.02,229 524.3,223.5C524.58,218 524.55,218.92 524.6,218" fill="none" stroke="#3a3a3a" stroke-width="1.25"/>
<path d="M368.4,283.1 L369.17,282.9 L369.94,282.61 L370.7,282.21 L371.47,281.67 L372.24,281 L373,280.17 L373.77,279.22 L374.54,278.16 L375.31,277.07 L376.07,276.02 L376.84,275.08 L377.61,274.34 L378.38,273.87 L379.14,273.71 L379.91,273.83 L380.68,274.16 L381.45,274.69 L382.21,275.37 L382.98,276.17 L383.75,277.03 L384.52,277.92 L385.29,278.78 L386.05,279.59 L386.82,280.32 L387.59,280.95 L388.36,281.49 L389.12,281.92 L389.89,282.26 L390.66,282.53 L391.43,282.72 L392.19,282.86 L392.96,282.96 L393.73,283.03 L394.5,283.07 L395.26,283.09 L396.03,283.1 L396.8,283.1 L397.56,283.1 L398.33,283.1 L399.1,283.1 L399.1,283.1 L368.4,283.1" fill="none" stroke="#ff1a1a" stroke-width="1.5" stroke-linejoin="round"/>
<path d="M423.8,265.8 L424.48,265.52 L425.16,265.13 L425.83,264.58 L426.51,263.85 L427.19,262.93 L427.87,261.81 L428.54,260.51 L429.22,259.07 L429.9,257.58 L430.57,256.12 L431.25,254.82 L431.93,253.78 L432.61,253.11 L433.29,252.87 L433.96,252.96 L434.64,253.28 L435.32,253.79 L436,254.49 L436.67,255.33 L437.35,256.27 L438.03,257.28 L438.7,258.31 L439.38,259.33 L440.06,260.32 L440.74,261.23 L441.41,262.07 L442.09,262.8 L442.77,263.44 L443.45,263.98 L444.12,264.43 L444.8,264.79 L445.48,265.07 L446.16,265.29 L446.83,265.46 L447.51,265.58 L448.19,265.66 L448.87,265.72 L449.54,265.76 L450.22,265.79 L450.9,265.8 L450.9,265.8 L423.8,265.8" fill="none" stroke="#1515b5" stroke-width="1.5" stroke-linejoin="round"/>
<path d="M464.4,262.6C466,262.08 470.73,260.6 474,259.5C477.27,258.4 480.67,256.88 484,256C487.33,255.12 491.33,254.85 494,254.2C496.67,253.55 498.43,252.73 500,252.1C501.57,251.47 502.83,250.68 503.4,250.4" fill="none" stroke="#1a8a1a" stroke-width="1.6"/>
</g>
<rect x="326" y="223.6" width="212.2" height="171.6" fill="none" stroke="#111" stroke-width="1.5"/>
<line x1="324.3" y1="389.75" x2="326" y2="389.75" stroke="#111" stroke-width="1.2"/>
<line x1="322.8" y1="375.5" x2="326" y2="375.5" stroke="#111" stroke-width="1.2"/>
<text x="320.6" y="378.8" font-size="9.4" text-anchor="end" fill="#383838"  stroke="#383838" stroke-width="0.25">−0.9</text>
<line x1="324.3" y1="361.25" x2="326" y2="361.25" stroke="#111" stroke-width="1.2"/>
<line x1="322.8" y1="347" x2="326" y2="347" stroke="#111" stroke-width="1.2"/>
<text x="320.6" y="350.3" font-size="9.4" text-anchor="end" fill="#383838"  stroke="#383838" stroke-width="0.25">−0.6</text>
<line x1="324.3" y1="332.75" x2="326" y2="332.75" stroke="#111" stroke-width="1.2"/>
<line x1="322.8" y1="318.5" x2="326" y2="318.5" stroke="#111" stroke-width="1.2"/>
<text x="320.6" y="321.8" font-size="9.4" text-anchor="end" fill="#383838"  stroke="#383838" stroke-width="0.25">−0.3</text>
<line x1="324.3" y1="304.25" x2="326" y2="304.25" stroke="#111" stroke-width="1.2"/>
<line x1="322.8" y1="290" x2="326" y2="290" stroke="#111" stroke-width="1.2"/>
<text x="320.6" y="293.3" font-size="9.4" text-anchor="end" fill="#383838"  stroke="#383838" stroke-width="0.25">0.0</text>
<line x1="324.3" y1="275.75" x2="326" y2="275.75" stroke="#111" stroke-width="1.2"/>
<line x1="322.8" y1="261.5" x2="326" y2="261.5" stroke="#111" stroke-width="1.2"/>
<text x="320.6" y="264.8" font-size="9.4" text-anchor="end" fill="#383838"  stroke="#383838" stroke-width="0.25">0.3</text>
<line x1="324.3" y1="247.25" x2="326" y2="247.25" stroke="#111" stroke-width="1.2"/>
<line x1="322.8" y1="233" x2="326" y2="233" stroke="#111" stroke-width="1.2"/>
<text x="320.6" y="236.3" font-size="9.4" text-anchor="end" fill="#383838"  stroke="#383838" stroke-width="0.25">0.6</text>
<line x1="328.05" y1="395.2" x2="328.05" y2="396.9" stroke="#111" stroke-width="1.2"/>
<line x1="339.74" y1="395.2" x2="339.74" y2="398.4" stroke="#111" stroke-width="1.2"/>
<text x="339.74" y="408.2" font-size="9.4" text-anchor="middle" fill="#383838"  stroke="#383838" stroke-width="0.25">−1.4</text>
<line x1="351.43" y1="395.2" x2="351.43" y2="396.9" stroke="#111" stroke-width="1.2"/>
<line x1="363.12" y1="395.2" x2="363.12" y2="398.4" stroke="#111" stroke-width="1.2"/>
<text x="363.12" y="408.2" font-size="9.4" text-anchor="middle" fill="#383838"  stroke="#383838" stroke-width="0.25">−1.2</text>
<line x1="374.81" y1="395.2" x2="374.81" y2="396.9" stroke="#111" stroke-width="1.2"/>
<line x1="386.5" y1="395.2" x2="386.5" y2="398.4" stroke="#111" stroke-width="1.2"/>
<text x="386.5" y="408.2" font-size="9.4" text-anchor="middle" fill="#383838"  stroke="#383838" stroke-width="0.25">−1.0</text>
<line x1="398.19" y1="395.2" x2="398.19" y2="396.9" stroke="#111" stroke-width="1.2"/>
<line x1="409.88" y1="395.2" x2="409.88" y2="398.4" stroke="#111" stroke-width="1.2"/>
<text x="409.88" y="408.2" font-size="9.4" text-anchor="middle" fill="#383838"  stroke="#383838" stroke-width="0.25">−0.8</text>
<line x1="421.57" y1="395.2" x2="421.57" y2="396.9" stroke="#111" stroke-width="1.2"/>
<line x1="433.26" y1="395.2" x2="433.26" y2="398.4" stroke="#111" stroke-width="1.2"/>
<text x="433.26" y="408.2" font-size="9.4" text-anchor="middle" fill="#383838"  stroke="#383838" stroke-width="0.25">−0.6</text>
<line x1="444.95" y1="395.2" x2="444.95" y2="396.9" stroke="#111" stroke-width="1.2"/>
<line x1="456.64" y1="395.2" x2="456.64" y2="398.4" stroke="#111" stroke-width="1.2"/>
<text x="456.64" y="408.2" font-size="9.4" text-anchor="middle" fill="#383838"  stroke="#383838" stroke-width="0.25">−0.4</text>
<line x1="468.33" y1="395.2" x2="468.33" y2="396.9" stroke="#111" stroke-width="1.2"/>
<line x1="480.02" y1="395.2" x2="480.02" y2="398.4" stroke="#111" stroke-width="1.2"/>
<text x="480.02" y="408.2" font-size="9.4" text-anchor="middle" fill="#383838"  stroke="#383838" stroke-width="0.25">−0.2</text>
<line x1="491.71" y1="395.2" x2="491.71" y2="396.9" stroke="#111" stroke-width="1.2"/>
<line x1="503.4" y1="395.2" x2="503.4" y2="398.4" stroke="#111" stroke-width="1.2"/>
<text x="503.4" y="408.2" font-size="9.4" text-anchor="middle" fill="#383838"  stroke="#383838" stroke-width="0.25">0.0</text>
<line x1="515.09" y1="395.2" x2="515.09" y2="396.9" stroke="#111" stroke-width="1.2"/>
<line x1="526.78" y1="395.2" x2="526.78" y2="398.4" stroke="#111" stroke-width="1.2"/>
<text x="526.78" y="408.2" font-size="9.4" text-anchor="middle" fill="#383838"  stroke="#383838" stroke-width="0.25">0.2</text>
<line x1="538.47" y1="395.2" x2="538.47" y2="396.9" stroke="#111" stroke-width="1.2"/>
<text x="286.4" y="233.8" font-size="15.2" text-anchor="start" fill="#222"  stroke="#222" stroke-width="0.12">(d)</text>
<text x="381.1" y="249.5" font-size="9.6" text-anchor="middle" fill="#383838"  stroke="#383838" stroke-width="0.25">(110)</text>
<text x="434.8" y="242.3" font-size="9.6" text-anchor="middle" fill="#383838"  stroke="#383838" stroke-width="0.25">(100)</text>
<text x="480.5" y="236" font-size="9.6" text-anchor="middle" fill="#383838"  stroke="#383838" stroke-width="0.25">(111)</text>
<text x="529.3" y="385.1" font-size="9.3" text-anchor="end" fill="#383838"  stroke="#383838" stroke-width="0.25">CP-Ag</text>
<text x="432" y="423.4" font-size="13.15" text-anchor="middle" fill="#222"  stroke="#222" stroke-width="0.12">E (V vs.RHE)</text>
<text transform="translate(297.2,303.4) rotate(-90)" font-size="13.5" text-anchor="middle" fill="#222" stroke="#222" stroke-width="0.12"><tspan font-style="italic">j</tspan> (mA cm<tspan font-size="9.2" dy="-5.4">−2</tspan><tspan dy="5.4">)</tspan></text>
<rect x="80.2" y="479.92" width="42.4" height="129.88" fill="#ff0000" stroke="#111" stroke-width="1"/>
<rect x="186.3" y="456.04" width="42.7" height="153.75" fill="#000090" stroke="#111" stroke-width="1"/>
<rect x="48" y="438.4" width="212.9" height="171.3" fill="none" stroke="#111" stroke-width="1.5"/>
<line x1="44.8" y1="609.8" x2="48" y2="609.8" stroke="#111" stroke-width="1.2"/>
<text x="42" y="613.3" font-size="9.8" text-anchor="end" fill="#383838"  stroke="#383838" stroke-width="0.25">0</text>
<line x1="46.3" y1="590.7" x2="48" y2="590.7" stroke="#111" stroke-width="1.2"/>
<line x1="44.8" y1="571.6" x2="48" y2="571.6" stroke="#111" stroke-width="1.2"/>
<text x="42" y="575.1" font-size="9.8" text-anchor="end" fill="#383838"  stroke="#383838" stroke-width="0.25">10</text>
<line x1="46.3" y1="552.5" x2="48" y2="552.5" stroke="#111" stroke-width="1.2"/>
<line x1="44.8" y1="533.4" x2="48" y2="533.4" stroke="#111" stroke-width="1.2"/>
<text x="42" y="536.9" font-size="9.8" text-anchor="end" fill="#383838"  stroke="#383838" stroke-width="0.25">20</text>
<line x1="46.3" y1="514.3" x2="48" y2="514.3" stroke="#111" stroke-width="1.2"/>
<line x1="44.8" y1="495.2" x2="48" y2="495.2" stroke="#111" stroke-width="1.2"/>
<text x="42" y="498.7" font-size="9.8" text-anchor="end" fill="#383838"  stroke="#383838" stroke-width="0.25">30</text>
<line x1="46.3" y1="476.1" x2="48" y2="476.1" stroke="#111" stroke-width="1.2"/>
<line x1="44.8" y1="457" x2="48" y2="457" stroke="#111" stroke-width="1.2"/>
<text x="42" y="460.5" font-size="9.8" text-anchor="end" fill="#383838"  stroke="#383838" stroke-width="0.25">40</text>
<line x1="46.3" y1="437.9" x2="48" y2="437.9" stroke="#111" stroke-width="1.2"/>
<line x1="101.4" y1="609.7" x2="101.4" y2="612.7" stroke="#111" stroke-width="1.2"/>
<line x1="154.5" y1="609.7" x2="154.5" y2="611.4" stroke="#111" stroke-width="1.2"/>
<line x1="207.6" y1="609.7" x2="207.6" y2="612.7" stroke="#111" stroke-width="1.2"/>
<text x="100.8" y="623.6" font-size="10.4" text-anchor="middle" fill="#383838"  stroke="#383838" stroke-width="0.25">Ag NP</text>
<text x="207.5" y="623.6" font-size="10.4" text-anchor="middle" fill="#383838"  stroke="#383838" stroke-width="0.25">CP-Ag</text>
<text x="100.8" y="474" font-size="9" text-anchor="middle" fill="#383838"  stroke="#383838" stroke-width="0.25">34</text>
<text x="207.1" y="452.6" font-size="9" text-anchor="middle" fill="#383838"  stroke="#383838" stroke-width="0.25">40.25</text>
<text x="11" y="454.3" font-size="15.0" text-anchor="start" fill="#222"  stroke="#222" stroke-width="0.12">(e)</text>
<text transform="translate(23.2,523.6) rotate(-90)" font-size="13.1" text-anchor="middle" fill="#222" stroke="#222" stroke-width="0.12">ECSA (cm<tspan font-size="8.5" dy="-4.5">2</tspan><tspan dy="4.5">)</tspan></text>
<rect x="325.4" y="437.6" width="212.8" height="170.4" fill="none" stroke="#111" stroke-width="1.5"/>
<line x1="322.2" y1="608" x2="325.4" y2="608" stroke="#111" stroke-width="1.2"/>
<text x="319.4" y="611.2" font-size="9" text-anchor="end" fill="#383838"  stroke="#383838" stroke-width="0.25">0.00</text>
<line x1="323.7" y1="592.5" x2="325.4" y2="592.5" stroke="#111" stroke-width="1.2"/>
<line x1="322.2" y1="577" x2="325.4" y2="577" stroke="#111" stroke-width="1.2"/>
<text x="319.4" y="580.2" font-size="9" text-anchor="end" fill="#383838"  stroke="#383838" stroke-width="0.25">0.05</text>
<line x1="323.7" y1="561.5" x2="325.4" y2="561.5" stroke="#111" stroke-width="1.2"/>
<line x1="322.2" y1="546" x2="325.4" y2="546" stroke="#111" stroke-width="1.2"/>
<text x="319.4" y="549.2" font-size="9" text-anchor="end" fill="#383838"  stroke="#383838" stroke-width="0.25">0.10</text>
<line x1="323.7" y1="530.5" x2="325.4" y2="530.5" stroke="#111" stroke-width="1.2"/>
<line x1="322.2" y1="515" x2="325.4" y2="515" stroke="#111" stroke-width="1.2"/>
<text x="319.4" y="518.2" font-size="9" text-anchor="end" fill="#383838"  stroke="#383838" stroke-width="0.25">0.15</text>
<line x1="323.7" y1="499.5" x2="325.4" y2="499.5" stroke="#111" stroke-width="1.2"/>
<line x1="322.2" y1="484" x2="325.4" y2="484" stroke="#111" stroke-width="1.2"/>
<text x="319.4" y="487.2" font-size="9" text-anchor="end" fill="#383838"  stroke="#383838" stroke-width="0.25">0.20</text>
<line x1="323.7" y1="468.5" x2="325.4" y2="468.5" stroke="#111" stroke-width="1.2"/>
<line x1="322.2" y1="453" x2="325.4" y2="453" stroke="#111" stroke-width="1.2"/>
<text x="319.4" y="456.2" font-size="9" text-anchor="end" fill="#383838"  stroke="#383838" stroke-width="0.25">0.25</text>
<line x1="325.39" y1="608.0" x2="325.39" y2="609.7" stroke="#111" stroke-width="1.2"/>
<line x1="337.9" y1="608.0" x2="337.9" y2="611.2" stroke="#111" stroke-width="1.2"/>
<text x="337.9" y="621.4" font-size="9" text-anchor="middle" fill="#383838"  stroke="#383838" stroke-width="0.25">0</text>
<line x1="350.41" y1="608.0" x2="350.41" y2="609.7" stroke="#111" stroke-width="1.2"/>
<line x1="362.91" y1="608.0" x2="362.91" y2="611.2" stroke="#111" stroke-width="1.2"/>
<text x="362.91" y="621.4" font-size="9" text-anchor="middle" fill="#383838"  stroke="#383838" stroke-width="0.25">20</text>
<line x1="375.42" y1="608.0" x2="375.42" y2="609.7" stroke="#111" stroke-width="1.2"/>
<line x1="387.92" y1="608.0" x2="387.92" y2="611.2" stroke="#111" stroke-width="1.2"/>
<text x="387.92" y="621.4" font-size="9" text-anchor="middle" fill="#383838"  stroke="#383838" stroke-width="0.25">40</text>
<line x1="400.43" y1="608.0" x2="400.43" y2="609.7" stroke="#111" stroke-width="1.2"/>
<line x1="412.94" y1="608.0" x2="412.94" y2="611.2" stroke="#111" stroke-width="1.2"/>
<text x="412.94" y="621.4" font-size="9" text-anchor="middle" fill="#383838"  stroke="#383838" stroke-width="0.25">60</text>
<line x1="425.44" y1="608.0" x2="425.44" y2="609.7" stroke="#111" stroke-width="1.2"/>
<line x1="437.95" y1="608.0" x2="437.95" y2="611.2" stroke="#111" stroke-width="1.2"/>
<text x="437.95" y="621.4" font-size="9" text-anchor="middle" fill="#383838"  stroke="#383838" stroke-width="0.25">80</text>
<line x1="450.45" y1="608.0" x2="450.45" y2="609.7" stroke="#111" stroke-width="1.2"/>
<line x1="462.96" y1="608.0" x2="462.96" y2="611.2" stroke="#111" stroke-width="1.2"/>
<text x="462.96" y="621.4" font-size="9" text-anchor="middle" fill="#383838"  stroke="#383838" stroke-width="0.25">100</text>
<line x1="475.47" y1="608.0" x2="475.47" y2="609.7" stroke="#111" stroke-width="1.2"/>
<line x1="487.97" y1="608.0" x2="487.97" y2="611.2" stroke="#111" stroke-width="1.2"/>
<text x="487.97" y="621.4" font-size="9" text-anchor="middle" fill="#383838"  stroke="#383838" stroke-width="0.25">120</text>
<line x1="500.48" y1="608.0" x2="500.48" y2="609.7" stroke="#111" stroke-width="1.2"/>
<line x1="512.98" y1="608.0" x2="512.98" y2="611.2" stroke="#111" stroke-width="1.2"/>
<text x="512.98" y="621.4" font-size="9" text-anchor="middle" fill="#383838"  stroke="#383838" stroke-width="0.25">140</text>
<line x1="525.49" y1="608.0" x2="525.49" y2="609.7" stroke="#111" stroke-width="1.2"/>
<line x1="538" y1="608.0" x2="538" y2="611.2" stroke="#111" stroke-width="1.2"/>
<text x="538" y="621.4" font-size="9" text-anchor="middle" fill="#383838"  stroke="#383838" stroke-width="0.25">160</text>
<line x1="350.41" y1="582.5" x2="512.98" y2="453.1" stroke="#1515b5" stroke-width="1.7"/>
<line x1="350.41" y1="594.5" x2="512.98" y2="485.2" stroke="#ff1a1a" stroke-width="1.7"/>
<circle cx="350.41" cy="587.3" r="2.4" fill="#1a1a90"/>
<circle cx="349.81" cy="586.8" r="1.0" fill="#6a6ad0"/>
<circle cx="362.91" cy="573.2" r="2.4" fill="#1a1a90"/>
<circle cx="362.31" cy="572.7" r="1.0" fill="#6a6ad0"/>
<circle cx="387.92" cy="549.8" r="2.4" fill="#1a1a90"/>
<circle cx="387.32" cy="549.3" r="1.0" fill="#6a6ad0"/>
<circle cx="412.94" cy="529.5" r="2.4" fill="#1a1a90"/>
<circle cx="412.34" cy="529" r="1.0" fill="#6a6ad0"/>
<circle cx="437.95" cy="509.4" r="2.4" fill="#1a1a90"/>
<circle cx="437.35" cy="508.9" r="1.0" fill="#6a6ad0"/>
<circle cx="462.96" cy="491.3" r="2.4" fill="#1a1a90"/>
<circle cx="462.36" cy="490.8" r="1.0" fill="#6a6ad0"/>
<circle cx="487.97" cy="473.2" r="2.4" fill="#1a1a90"/>
<circle cx="487.37" cy="472.7" r="1.0" fill="#6a6ad0"/>
<circle cx="512.98" cy="456.4" r="2.4" fill="#1a1a90"/>
<circle cx="512.38" cy="455.9" r="1.0" fill="#6a6ad0"/>
<circle cx="350.41" cy="596.7" r="2.4" fill="#ff2020"/>
<circle cx="349.81" cy="596.2" r="1.0" fill="#ff9a9a"/>
<circle cx="362.91" cy="586.5" r="2.4" fill="#ff2020"/>
<circle cx="362.31" cy="586" r="1.0" fill="#ff9a9a"/>
<circle cx="387.92" cy="568" r="2.4" fill="#ff2020"/>
<circle cx="387.32" cy="567.5" r="1.0" fill="#ff9a9a"/>
<circle cx="412.94" cy="549.8" r="2.4" fill="#ff2020"/>
<circle cx="412.34" cy="549.3" r="1.0" fill="#ff9a9a"/>
<circle cx="437.95" cy="533.4" r="2.4" fill="#ff2020"/>
<circle cx="437.35" cy="532.9" r="1.0" fill="#ff9a9a"/>
<circle cx="462.96" cy="517.9" r="2.4" fill="#ff2020"/>
<circle cx="462.36" cy="517.4" r="1.0" fill="#ff9a9a"/>
<circle cx="487.97" cy="501.8" r="2.4" fill="#ff2020"/>
<circle cx="487.37" cy="501.3" r="1.0" fill="#ff9a9a"/>
<circle cx="512.98" cy="486.3" r="2.4" fill="#ff2020"/>
<circle cx="512.38" cy="485.8" r="1.0" fill="#ff9a9a"/>
<circle cx="347" cy="464.4" r="2.4" fill="#1a1a90"/>
<circle cx="346.4" cy="463.9" r="1.0" fill="#6a6ad0"/>
<circle cx="347" cy="475" r="2.4" fill="#ff2020"/>
<circle cx="346.4" cy="474.5" r="1.0" fill="#ff9a9a"/>
<text x="359.2" y="467" font-size="9.1" text-anchor="start" fill="#383838"  stroke="#383838" stroke-width="0.25">CP-Ag</text>
<text x="359.2" y="477.7" font-size="9.1" text-anchor="start" fill="#383838"  stroke="#383838" stroke-width="0.25">AgNP</text>
<text x="286" y="455.2" font-size="14.5" text-anchor="start" fill="#222"  stroke="#222" stroke-width="0.12">(f)</text>
<text x="431.5" y="636.2" font-size="13.35" text-anchor="middle" fill="#222"  stroke="#222" stroke-width="0.12">Scan rate (V vs.RHE)</text>
<text transform="translate(296.8,522.2) rotate(-90)" font-size="13.5" text-anchor="middle" fill="#222" stroke="#222" stroke-width="0.12"><tspan font-style="italic">j</tspan> (mA cm<tspan font-size="9.2" dy="-5.4">−2</tspan><tspan dy="5.4">)</tspan></text>
<text transform="translate(402.3,526.8) rotate(-37)" font-size="9.4" font-weight="bold" fill="#1515b5">1.61 mF cm<tspan font-size="6.5" dy="-3.5">−2</tspan></text>
<text transform="translate(443.8,548.6) rotate(-33.5)" font-size="9.4" font-weight="bold" fill="#ff1a1a">1.36 mF cm<tspan font-size="6.5" dy="-3.5">−2</tspan></text>
</svg></body></html>
